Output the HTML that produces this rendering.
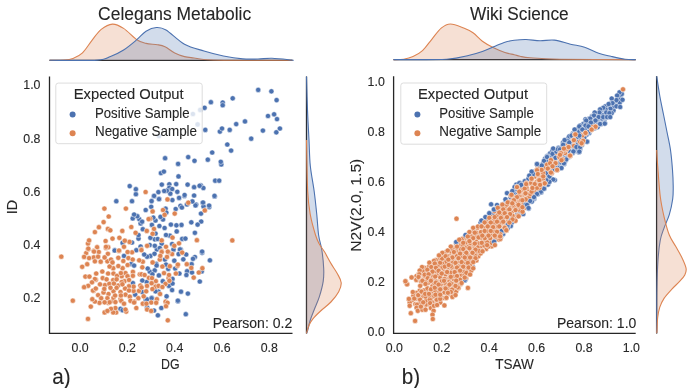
<!DOCTYPE html>
<html><head><meta charset="utf-8"><style>
html,body{margin:0;padding:0;background:#fff;}
svg{display:block;font-family:"Liberation Sans", sans-serif;will-change:transform;}
text{fill:#262626;stroke:#262626;stroke-width:0.1px;}
</style></head><body>
<svg width="694" height="388" viewBox="0 0 694 388">
<line x1="49.5" y1="60.3" x2="292.5" y2="60.3" stroke="#262626" stroke-width="1.3"/>
<line x1="306.5" y1="76.5" x2="306.5" y2="333.4" stroke="#262626" stroke-width="1.3"/>
<line x1="393.5" y1="59.6" x2="635.7" y2="59.6" stroke="#262626" stroke-width="1.3"/>
<line x1="656.6" y1="76.3" x2="656.6" y2="333.4" stroke="#262626" stroke-width="1.3"/>
<path d="M49.50,60.30 C51.87,60.27 59.78,60.42 63.70,60.10 C67.62,59.78 69.87,59.62 73.00,58.40 C76.13,57.18 79.37,55.77 82.50,52.80 C85.63,49.83 88.68,44.50 91.80,40.60 C94.92,36.70 97.77,32.15 101.20,29.40 C104.63,26.65 108.67,24.27 112.40,24.10 C116.13,23.93 119.53,25.80 123.60,28.40 C127.67,31.00 133.07,37.20 136.80,39.70 C140.53,42.20 142.57,42.57 146.00,43.40 C149.43,44.23 154.23,44.13 157.40,44.70 C160.57,45.27 162.12,45.42 165.00,46.80 C167.88,48.18 171.45,51.37 174.70,53.00 C177.95,54.63 181.28,55.77 184.50,56.60 C187.72,57.43 189.15,57.43 194.00,58.00 C198.85,58.57 197.18,59.62 213.60,60.00 C230.02,60.38 279.35,60.25 292.50,60.30 Z" fill="#DD8452" fill-opacity="0.25" stroke="none"/>
<path d="M49.50,60.30 C51.87,60.27 59.78,60.42 63.70,60.10 C67.62,59.78 69.87,59.62 73.00,58.40 C76.13,57.18 79.37,55.77 82.50,52.80 C85.63,49.83 88.68,44.50 91.80,40.60 C94.92,36.70 97.77,32.15 101.20,29.40 C104.63,26.65 108.67,24.27 112.40,24.10 C116.13,23.93 119.53,25.80 123.60,28.40 C127.67,31.00 133.07,37.20 136.80,39.70 C140.53,42.20 142.57,42.57 146.00,43.40 C149.43,44.23 154.23,44.13 157.40,44.70 C160.57,45.27 162.12,45.42 165.00,46.80 C167.88,48.18 171.45,51.37 174.70,53.00 C177.95,54.63 181.28,55.77 184.50,56.60 C187.72,57.43 189.15,57.43 194.00,58.00 C198.85,58.57 197.18,59.62 213.60,60.00 C230.02,60.38 279.35,60.25 292.50,60.30" fill="none" stroke="#DD8452" stroke-width="1.1"/>
<path d="M49.50,60.30 C57.48,60.27 87.23,60.73 97.40,60.10 C107.57,59.47 106.13,58.18 110.50,56.50 C114.87,54.82 119.22,52.80 123.60,50.00 C127.98,47.20 133.07,42.83 136.80,39.70 C140.53,36.57 142.73,33.23 146.00,31.20 C149.27,29.17 153.07,27.70 156.40,27.50 C159.73,27.30 161.32,27.20 166.00,30.00 C170.68,32.80 178.17,40.80 184.50,44.30 C190.83,47.80 197.52,49.05 204.00,51.00 C210.48,52.95 216.93,54.68 223.40,56.00 C229.87,57.32 237.03,58.40 242.80,58.90 C248.57,59.40 253.13,59.10 258.00,59.00 C262.87,58.90 266.42,58.13 272.00,58.30 C277.58,58.47 288.08,59.67 291.50,60.00 C294.92,60.33 292.33,60.25 292.50,60.30 Z" fill="#4C72B0" fill-opacity="0.25" stroke="none"/>
<path d="M49.50,60.30 C57.48,60.27 87.23,60.73 97.40,60.10 C107.57,59.47 106.13,58.18 110.50,56.50 C114.87,54.82 119.22,52.80 123.60,50.00 C127.98,47.20 133.07,42.83 136.80,39.70 C140.53,36.57 142.73,33.23 146.00,31.20 C149.27,29.17 153.07,27.70 156.40,27.50 C159.73,27.30 161.32,27.20 166.00,30.00 C170.68,32.80 178.17,40.80 184.50,44.30 C190.83,47.80 197.52,49.05 204.00,51.00 C210.48,52.95 216.93,54.68 223.40,56.00 C229.87,57.32 237.03,58.40 242.80,58.90 C248.57,59.40 253.13,59.10 258.00,59.00 C262.87,58.90 266.42,58.13 272.00,58.30 C277.58,58.47 288.08,59.67 291.50,60.00 C294.92,60.33 292.33,60.25 292.50,60.30" fill="none" stroke="#4C72B0" stroke-width="1.1"/>
<path d="M306.50,76.50 C306.67,82.08 307.08,99.42 307.50,110.00 C307.92,120.58 308.53,130.70 309.00,140.00 C309.47,149.30 309.43,157.22 310.30,165.80 C311.17,174.38 313.12,183.35 314.20,191.50 C315.28,199.65 316.07,207.45 316.80,214.70 C317.53,221.95 317.75,229.03 318.60,235.00 C319.45,240.97 321.05,244.92 321.90,250.50 C322.75,256.08 323.48,263.35 323.70,268.50 C323.92,273.65 323.93,276.67 323.20,281.40 C322.47,286.13 320.80,292.18 319.30,296.90 C317.80,301.62 315.70,305.85 314.20,309.70 C312.70,313.55 311.38,316.55 310.30,320.00 C309.22,323.45 308.33,328.18 307.70,330.40 C307.07,332.62 306.70,332.82 306.50,333.30 Z" fill="#4C72B0" fill-opacity="0.25" stroke="none"/>
<path d="M306.50,76.50 C306.67,82.08 307.08,99.42 307.50,110.00 C307.92,120.58 308.53,130.70 309.00,140.00 C309.47,149.30 309.43,157.22 310.30,165.80 C311.17,174.38 313.12,183.35 314.20,191.50 C315.28,199.65 316.07,207.45 316.80,214.70 C317.53,221.95 317.75,229.03 318.60,235.00 C319.45,240.97 321.05,244.92 321.90,250.50 C322.75,256.08 323.48,263.35 323.70,268.50 C323.92,273.65 323.93,276.67 323.20,281.40 C322.47,286.13 320.80,292.18 319.30,296.90 C317.80,301.62 315.70,305.85 314.20,309.70 C312.70,313.55 311.38,316.55 310.30,320.00 C309.22,323.45 308.33,328.18 307.70,330.40 C307.07,332.62 306.70,332.82 306.50,333.30" fill="none" stroke="#4C72B0" stroke-width="1.1"/>
<path d="M306.50,140.00 C306.70,148.58 307.07,179.05 307.70,191.50 C308.33,203.95 309.00,207.45 310.30,214.70 C311.60,221.95 314.00,230.12 315.50,235.00 C317.00,239.88 317.80,241.20 319.30,244.00 C320.80,246.80 322.57,248.57 324.50,251.80 C326.43,255.03 328.75,259.75 330.90,263.40 C333.05,267.05 335.68,270.48 337.40,273.70 C339.12,276.92 340.98,279.70 341.20,282.70 C341.42,285.70 340.42,288.48 338.70,291.70 C336.98,294.92 333.92,298.78 330.90,302.00 C327.88,305.22 323.60,308.20 320.60,311.00 C317.60,313.80 314.83,316.43 312.90,318.80 C310.97,321.17 310.07,322.78 309.00,325.20 C307.93,327.62 306.92,331.95 306.50,333.30 Z" fill="#DD8452" fill-opacity="0.25" stroke="none"/>
<path d="M306.50,140.00 C306.70,148.58 307.07,179.05 307.70,191.50 C308.33,203.95 309.00,207.45 310.30,214.70 C311.60,221.95 314.00,230.12 315.50,235.00 C317.00,239.88 317.80,241.20 319.30,244.00 C320.80,246.80 322.57,248.57 324.50,251.80 C326.43,255.03 328.75,259.75 330.90,263.40 C333.05,267.05 335.68,270.48 337.40,273.70 C339.12,276.92 340.98,279.70 341.20,282.70 C341.42,285.70 340.42,288.48 338.70,291.70 C336.98,294.92 333.92,298.78 330.90,302.00 C327.88,305.22 323.60,308.20 320.60,311.00 C317.60,313.80 314.83,316.43 312.90,318.80 C310.97,321.17 310.07,322.78 309.00,325.20 C307.93,327.62 306.92,331.95 306.50,333.30" fill="none" stroke="#DD8452" stroke-width="1.1"/>
<path d="M393.50,59.60 C395.20,59.53 400.45,59.70 403.70,59.20 C406.95,58.70 409.87,58.03 413.00,56.60 C416.13,55.17 419.37,53.48 422.50,50.60 C425.63,47.72 428.68,43.05 431.80,39.30 C434.92,35.55 438.08,30.65 441.20,28.10 C444.32,25.55 446.75,24.00 450.50,24.00 C454.25,24.00 459.95,26.63 463.70,28.10 C467.45,29.57 469.88,30.62 473.00,32.80 C476.12,34.98 478.97,38.70 482.40,41.20 C485.83,43.70 489.85,45.92 493.60,47.80 C497.35,49.68 501.47,51.35 504.90,52.50 C508.33,53.65 511.68,54.08 514.20,54.70 C516.72,55.33 517.37,55.75 520.00,56.25 C522.63,56.75 523.33,57.21 530.00,57.70 C536.67,58.19 542.38,58.88 560.00,59.20 C577.62,59.52 623.08,59.53 635.70,59.60 Z" fill="#DD8452" fill-opacity="0.25" stroke="none"/>
<path d="M393.50,59.60 C395.20,59.53 400.45,59.70 403.70,59.20 C406.95,58.70 409.87,58.03 413.00,56.60 C416.13,55.17 419.37,53.48 422.50,50.60 C425.63,47.72 428.68,43.05 431.80,39.30 C434.92,35.55 438.08,30.65 441.20,28.10 C444.32,25.55 446.75,24.00 450.50,24.00 C454.25,24.00 459.95,26.63 463.70,28.10 C467.45,29.57 469.88,30.62 473.00,32.80 C476.12,34.98 478.97,38.70 482.40,41.20 C485.83,43.70 489.85,45.92 493.60,47.80 C497.35,49.68 501.47,51.35 504.90,52.50 C508.33,53.65 511.68,54.08 514.20,54.70 C516.72,55.33 517.37,55.75 520.00,56.25 C522.63,56.75 523.33,57.21 530.00,57.70 C536.67,58.19 542.38,58.88 560.00,59.20 C577.62,59.52 623.08,59.53 635.70,59.60" fill="none" stroke="#DD8452" stroke-width="1.1"/>
<path d="M393.50,59.60 C402.38,59.53 434.17,59.92 446.80,59.20 C459.43,58.48 463.37,56.58 469.30,55.30 C475.23,54.02 478.35,52.92 482.40,51.50 C486.45,50.08 489.85,48.35 493.60,46.80 C497.35,45.25 501.47,43.28 504.90,42.20 C508.33,41.12 510.68,40.75 514.20,40.30 C517.72,39.85 521.70,39.43 526.00,39.50 C530.30,39.57 535.27,40.60 540.00,40.70 C544.73,40.80 549.32,39.52 554.40,40.10 C559.48,40.68 565.47,43.02 570.50,44.20 C575.53,45.38 579.90,45.70 584.60,47.20 C589.30,48.70 594.33,51.68 598.70,53.20 C603.07,54.72 606.42,55.30 610.80,56.30 C615.18,57.30 620.85,58.65 625.00,59.20 C629.15,59.75 633.92,59.53 635.70,59.60 Z" fill="#4C72B0" fill-opacity="0.25" stroke="none"/>
<path d="M393.50,59.60 C402.38,59.53 434.17,59.92 446.80,59.20 C459.43,58.48 463.37,56.58 469.30,55.30 C475.23,54.02 478.35,52.92 482.40,51.50 C486.45,50.08 489.85,48.35 493.60,46.80 C497.35,45.25 501.47,43.28 504.90,42.20 C508.33,41.12 510.68,40.75 514.20,40.30 C517.72,39.85 521.70,39.43 526.00,39.50 C530.30,39.57 535.27,40.60 540.00,40.70 C544.73,40.80 549.32,39.52 554.40,40.10 C559.48,40.68 565.47,43.02 570.50,44.20 C575.53,45.38 579.90,45.70 584.60,47.20 C589.30,48.70 594.33,51.68 598.70,53.20 C603.07,54.72 606.42,55.30 610.80,56.30 C615.18,57.30 620.85,58.65 625.00,59.20 C629.15,59.75 633.92,59.53 635.70,59.60" fill="none" stroke="#4C72B0" stroke-width="1.1"/>
<path d="M656.70,76.30 C657.22,79.58 658.68,89.72 659.80,96.00 C660.92,102.28 662.20,108.00 663.40,114.00 C664.60,120.00 665.82,126.00 667.00,132.00 C668.18,138.00 669.58,143.67 670.50,150.00 C671.42,156.33 672.05,164.00 672.50,170.00 C672.95,176.00 673.17,181.17 673.20,186.00 C673.23,190.83 673.35,194.22 672.70,199.00 C672.05,203.78 670.72,209.93 669.30,214.70 C667.88,219.47 665.70,223.38 664.20,227.60 C662.70,231.82 661.33,234.60 660.30,240.00 C659.27,245.40 658.57,251.67 658.00,260.00 C657.43,268.33 657.12,277.78 656.90,290.00 C656.68,302.22 656.73,326.08 656.70,333.30 Z" fill="#4C72B0" fill-opacity="0.25" stroke="none"/>
<path d="M656.70,76.30 C657.22,79.58 658.68,89.72 659.80,96.00 C660.92,102.28 662.20,108.00 663.40,114.00 C664.60,120.00 665.82,126.00 667.00,132.00 C668.18,138.00 669.58,143.67 670.50,150.00 C671.42,156.33 672.05,164.00 672.50,170.00 C672.95,176.00 673.17,181.17 673.20,186.00 C673.23,190.83 673.35,194.22 672.70,199.00 C672.05,203.78 670.72,209.93 669.30,214.70 C667.88,219.47 665.70,223.38 664.20,227.60 C662.70,231.82 661.33,234.60 660.30,240.00 C659.27,245.40 658.57,251.67 658.00,260.00 C657.43,268.33 657.12,277.78 656.90,290.00 C656.68,302.22 656.73,326.08 656.70,333.30" fill="none" stroke="#4C72B0" stroke-width="1.1"/>
<path d="M656.70,150.00 C656.87,152.67 657.10,158.22 657.70,166.00 C658.30,173.78 659.22,188.15 660.30,196.70 C661.38,205.25 662.70,210.92 664.20,217.30 C665.70,223.68 667.37,230.12 669.30,235.00 C671.23,239.88 673.65,242.73 675.80,246.60 C677.95,250.47 680.48,254.55 682.20,258.20 C683.92,261.85 685.67,265.70 686.10,268.50 C686.53,271.30 685.88,272.85 684.80,275.00 C683.72,277.15 681.75,279.05 679.60,281.40 C677.45,283.75 674.47,286.32 671.90,289.10 C669.33,291.88 666.22,295.08 664.20,298.10 C662.18,301.12 660.88,303.97 659.80,307.20 C658.72,310.43 658.17,313.63 657.70,317.50 C657.23,321.37 657.17,327.77 657.00,330.40 C656.83,333.03 656.75,332.82 656.70,333.30 Z" fill="#DD8452" fill-opacity="0.25" stroke="none"/>
<path d="M656.70,150.00 C656.87,152.67 657.10,158.22 657.70,166.00 C658.30,173.78 659.22,188.15 660.30,196.70 C661.38,205.25 662.70,210.92 664.20,217.30 C665.70,223.68 667.37,230.12 669.30,235.00 C671.23,239.88 673.65,242.73 675.80,246.60 C677.95,250.47 680.48,254.55 682.20,258.20 C683.92,261.85 685.67,265.70 686.10,268.50 C686.53,271.30 685.88,272.85 684.80,275.00 C683.72,277.15 681.75,279.05 679.60,281.40 C677.45,283.75 674.47,286.32 671.90,289.10 C669.33,291.88 666.22,295.08 664.20,298.10 C662.18,301.12 660.88,303.97 659.80,307.20 C658.72,310.43 658.17,313.63 657.70,317.50 C657.23,321.37 657.17,327.77 657.00,330.40 C656.83,333.03 656.75,332.82 656.70,333.30" fill="none" stroke="#DD8452" stroke-width="1.1"/>
<circle cx="120.4" cy="308.8" r="2.60" fill="#4C72B0" stroke="#fff" stroke-width="0.50"/>
<circle cx="172.5" cy="278.9" r="2.60" fill="#4C72B0" stroke="#fff" stroke-width="0.50"/>
<circle cx="182.2" cy="238.9" r="2.60" fill="#4C72B0" stroke="#fff" stroke-width="0.50"/>
<circle cx="192.9" cy="114.0" r="2.60" fill="#4C72B0" stroke="#fff" stroke-width="0.50"/>
<circle cx="145.7" cy="210.0" r="2.60" fill="#4C72B0" stroke="#fff" stroke-width="0.50"/>
<circle cx="170.9" cy="224.6" r="2.60" fill="#4C72B0" stroke="#fff" stroke-width="0.50"/>
<circle cx="159.1" cy="198.9" r="2.60" fill="#4C72B0" stroke="#fff" stroke-width="0.50"/>
<circle cx="185.4" cy="238.6" r="2.60" fill="#4C72B0" stroke="#fff" stroke-width="0.50"/>
<circle cx="202.1" cy="252.8" r="2.60" fill="#4C72B0" stroke="#fff" stroke-width="0.50"/>
<circle cx="197.6" cy="124.4" r="2.60" fill="#4C72B0" stroke="#fff" stroke-width="0.50"/>
<circle cx="175.7" cy="209.0" r="2.60" fill="#4C72B0" stroke="#fff" stroke-width="0.50"/>
<circle cx="219.9" cy="131.6" r="2.60" fill="#4C72B0" stroke="#fff" stroke-width="0.50"/>
<circle cx="185.8" cy="314.2" r="2.60" fill="#4C72B0" stroke="#fff" stroke-width="0.50"/>
<circle cx="187.1" cy="271.2" r="2.60" fill="#4C72B0" stroke="#fff" stroke-width="0.50"/>
<circle cx="200.2" cy="109.9" r="2.60" fill="#4C72B0" stroke="#fff" stroke-width="0.50"/>
<circle cx="165.1" cy="158.2" r="2.60" fill="#4C72B0" stroke="#fff" stroke-width="0.50"/>
<circle cx="154.0" cy="196.0" r="2.60" fill="#4C72B0" stroke="#fff" stroke-width="0.50"/>
<circle cx="132.7" cy="218.4" r="2.60" fill="#4C72B0" stroke="#fff" stroke-width="0.50"/>
<circle cx="202.1" cy="251.6" r="2.60" fill="#4C72B0" stroke="#fff" stroke-width="0.50"/>
<circle cx="156.2" cy="263.9" r="2.60" fill="#4C72B0" stroke="#fff" stroke-width="0.50"/>
<circle cx="146.6" cy="282.0" r="2.60" fill="#4C72B0" stroke="#fff" stroke-width="0.50"/>
<circle cx="222.7" cy="102.5" r="2.60" fill="#4C72B0" stroke="#fff" stroke-width="0.50"/>
<circle cx="151.9" cy="224.9" r="2.60" fill="#4C72B0" stroke="#fff" stroke-width="0.50"/>
<circle cx="158.4" cy="192.1" r="2.60" fill="#4C72B0" stroke="#fff" stroke-width="0.50"/>
<circle cx="202.9" cy="202.7" r="2.60" fill="#4C72B0" stroke="#fff" stroke-width="0.50"/>
<circle cx="205.3" cy="129.9" r="2.60" fill="#4C72B0" stroke="#fff" stroke-width="0.50"/>
<circle cx="184.4" cy="196.0" r="2.60" fill="#4C72B0" stroke="#fff" stroke-width="0.50"/>
<circle cx="149.7" cy="245.0" r="2.60" fill="#4C72B0" stroke="#fff" stroke-width="0.50"/>
<circle cx="142.8" cy="229.2" r="2.60" fill="#4C72B0" stroke="#fff" stroke-width="0.50"/>
<circle cx="166.6" cy="296.3" r="2.60" fill="#4C72B0" stroke="#fff" stroke-width="0.50"/>
<circle cx="173.5" cy="249.7" r="2.60" fill="#4C72B0" stroke="#fff" stroke-width="0.50"/>
<circle cx="159.4" cy="226.0" r="2.60" fill="#4C72B0" stroke="#fff" stroke-width="0.50"/>
<circle cx="155.5" cy="220.5" r="2.60" fill="#4C72B0" stroke="#fff" stroke-width="0.50"/>
<circle cx="114.7" cy="250.2" r="2.60" fill="#4C72B0" stroke="#fff" stroke-width="0.50"/>
<circle cx="176.7" cy="231.4" r="2.60" fill="#4C72B0" stroke="#fff" stroke-width="0.50"/>
<circle cx="168.2" cy="268.9" r="2.60" fill="#4C72B0" stroke="#fff" stroke-width="0.50"/>
<circle cx="138.5" cy="238.6" r="2.60" fill="#4C72B0" stroke="#fff" stroke-width="0.50"/>
<circle cx="200.8" cy="185.4" r="2.60" fill="#4C72B0" stroke="#fff" stroke-width="0.50"/>
<circle cx="161.3" cy="308.0" r="2.60" fill="#4C72B0" stroke="#fff" stroke-width="0.50"/>
<circle cx="164.9" cy="259.5" r="2.60" fill="#4C72B0" stroke="#fff" stroke-width="0.50"/>
<circle cx="181.0" cy="291.7" r="2.60" fill="#4C72B0" stroke="#fff" stroke-width="0.50"/>
<circle cx="170.3" cy="193.7" r="2.60" fill="#4C72B0" stroke="#fff" stroke-width="0.50"/>
<circle cx="186.2" cy="254.5" r="2.60" fill="#4C72B0" stroke="#fff" stroke-width="0.50"/>
<circle cx="165.6" cy="208.7" r="2.60" fill="#4C72B0" stroke="#fff" stroke-width="0.50"/>
<circle cx="156.9" cy="249.4" r="2.60" fill="#4C72B0" stroke="#fff" stroke-width="0.50"/>
<circle cx="271.4" cy="91.3" r="2.60" fill="#4C72B0" stroke="#fff" stroke-width="0.50"/>
<circle cx="236.2" cy="124.1" r="2.60" fill="#4C72B0" stroke="#fff" stroke-width="0.50"/>
<circle cx="154.8" cy="239.3" r="2.60" fill="#4C72B0" stroke="#fff" stroke-width="0.50"/>
<circle cx="187.9" cy="293.6" r="2.60" fill="#4C72B0" stroke="#fff" stroke-width="0.50"/>
<circle cx="149.7" cy="271.6" r="2.60" fill="#4C72B0" stroke="#fff" stroke-width="0.50"/>
<circle cx="214.7" cy="196.4" r="2.60" fill="#4C72B0" stroke="#fff" stroke-width="0.50"/>
<circle cx="163.0" cy="219.5" r="2.60" fill="#4C72B0" stroke="#fff" stroke-width="0.50"/>
<circle cx="201.2" cy="221.5" r="2.60" fill="#4C72B0" stroke="#fff" stroke-width="0.50"/>
<circle cx="232.7" cy="98.3" r="2.60" fill="#4C72B0" stroke="#fff" stroke-width="0.50"/>
<circle cx="132.0" cy="201.2" r="2.60" fill="#4C72B0" stroke="#fff" stroke-width="0.50"/>
<circle cx="135.9" cy="194.2" r="2.60" fill="#4C72B0" stroke="#fff" stroke-width="0.50"/>
<circle cx="122.6" cy="242.9" r="2.60" fill="#4C72B0" stroke="#fff" stroke-width="0.50"/>
<circle cx="277.0" cy="119.1" r="2.60" fill="#4C72B0" stroke="#fff" stroke-width="0.50"/>
<circle cx="147.1" cy="307.3" r="2.60" fill="#4C72B0" stroke="#fff" stroke-width="0.50"/>
<circle cx="169.3" cy="184.3" r="2.60" fill="#4C72B0" stroke="#fff" stroke-width="0.50"/>
<circle cx="191.6" cy="264.2" r="2.60" fill="#4C72B0" stroke="#fff" stroke-width="0.50"/>
<circle cx="180.5" cy="205.8" r="2.60" fill="#4C72B0" stroke="#fff" stroke-width="0.50"/>
<circle cx="136.3" cy="250.2" r="2.60" fill="#4C72B0" stroke="#fff" stroke-width="0.50"/>
<circle cx="151.9" cy="297.9" r="2.60" fill="#4C72B0" stroke="#fff" stroke-width="0.50"/>
<circle cx="183.3" cy="259.3" r="2.60" fill="#4C72B0" stroke="#fff" stroke-width="0.50"/>
<circle cx="169.3" cy="187.8" r="2.60" fill="#4C72B0" stroke="#fff" stroke-width="0.50"/>
<circle cx="177.3" cy="191.8" r="2.60" fill="#4C72B0" stroke="#fff" stroke-width="0.50"/>
<circle cx="209.2" cy="207.1" r="2.60" fill="#4C72B0" stroke="#fff" stroke-width="0.50"/>
<circle cx="142.3" cy="280.5" r="2.60" fill="#4C72B0" stroke="#fff" stroke-width="0.50"/>
<circle cx="131.3" cy="263.9" r="2.60" fill="#4C72B0" stroke="#fff" stroke-width="0.50"/>
<circle cx="132.0" cy="242.5" r="2.60" fill="#4C72B0" stroke="#fff" stroke-width="0.50"/>
<circle cx="155.5" cy="233.5" r="2.60" fill="#4C72B0" stroke="#fff" stroke-width="0.50"/>
<circle cx="214.5" cy="195.9" r="2.60" fill="#4C72B0" stroke="#fff" stroke-width="0.50"/>
<circle cx="204.6" cy="107.8" r="2.60" fill="#4C72B0" stroke="#fff" stroke-width="0.50"/>
<circle cx="172.2" cy="189.0" r="2.60" fill="#4C72B0" stroke="#fff" stroke-width="0.50"/>
<circle cx="194.1" cy="195.5" r="2.60" fill="#4C72B0" stroke="#fff" stroke-width="0.50"/>
<circle cx="150.4" cy="255.9" r="2.60" fill="#4C72B0" stroke="#fff" stroke-width="0.50"/>
<circle cx="151.5" cy="201.1" r="2.60" fill="#4C72B0" stroke="#fff" stroke-width="0.50"/>
<circle cx="135.2" cy="294.7" r="2.60" fill="#4C72B0" stroke="#fff" stroke-width="0.50"/>
<circle cx="139.2" cy="219.1" r="2.60" fill="#4C72B0" stroke="#fff" stroke-width="0.50"/>
<circle cx="161.7" cy="243.6" r="2.60" fill="#4C72B0" stroke="#fff" stroke-width="0.50"/>
<circle cx="157.9" cy="315.3" r="2.60" fill="#4C72B0" stroke="#fff" stroke-width="0.50"/>
<circle cx="184.6" cy="195.0" r="2.60" fill="#4C72B0" stroke="#fff" stroke-width="0.50"/>
<circle cx="201.0" cy="213.6" r="2.60" fill="#4C72B0" stroke="#fff" stroke-width="0.50"/>
<circle cx="158.5" cy="291.7" r="2.60" fill="#4C72B0" stroke="#fff" stroke-width="0.50"/>
<circle cx="209.9" cy="260.3" r="2.60" fill="#4C72B0" stroke="#fff" stroke-width="0.50"/>
<circle cx="179.4" cy="273.5" r="2.60" fill="#4C72B0" stroke="#fff" stroke-width="0.50"/>
<circle cx="180.7" cy="249.4" r="2.60" fill="#4C72B0" stroke="#fff" stroke-width="0.50"/>
<circle cx="222.7" cy="105.2" r="2.60" fill="#4C72B0" stroke="#fff" stroke-width="0.50"/>
<circle cx="122.6" cy="310.2" r="2.60" fill="#4C72B0" stroke="#fff" stroke-width="0.50"/>
<circle cx="147.1" cy="256.7" r="2.60" fill="#4C72B0" stroke="#fff" stroke-width="0.50"/>
<circle cx="215.2" cy="180.7" r="2.60" fill="#4C72B0" stroke="#fff" stroke-width="0.50"/>
<circle cx="174.3" cy="260.7" r="2.60" fill="#4C72B0" stroke="#fff" stroke-width="0.50"/>
<circle cx="180.0" cy="249.4" r="2.60" fill="#4C72B0" stroke="#fff" stroke-width="0.50"/>
<circle cx="160.9" cy="173.1" r="2.60" fill="#4C72B0" stroke="#fff" stroke-width="0.50"/>
<circle cx="274.1" cy="114.3" r="2.60" fill="#4C72B0" stroke="#fff" stroke-width="0.50"/>
<circle cx="169.9" cy="235.7" r="2.60" fill="#4C72B0" stroke="#fff" stroke-width="0.50"/>
<circle cx="201.7" cy="271.4" r="2.60" fill="#4C72B0" stroke="#fff" stroke-width="0.50"/>
<circle cx="169.0" cy="285.9" r="2.60" fill="#4C72B0" stroke="#fff" stroke-width="0.50"/>
<circle cx="166.0" cy="235.0" r="2.60" fill="#4C72B0" stroke="#fff" stroke-width="0.50"/>
<circle cx="147.7" cy="268.5" r="2.60" fill="#4C72B0" stroke="#fff" stroke-width="0.50"/>
<circle cx="137.3" cy="216.2" r="2.60" fill="#4C72B0" stroke="#fff" stroke-width="0.50"/>
<circle cx="203.5" cy="206.4" r="2.60" fill="#4C72B0" stroke="#fff" stroke-width="0.50"/>
<circle cx="172.5" cy="283.5" r="2.60" fill="#4C72B0" stroke="#fff" stroke-width="0.50"/>
<circle cx="251.2" cy="138.7" r="2.60" fill="#4C72B0" stroke="#fff" stroke-width="0.50"/>
<circle cx="154.7" cy="270.4" r="2.60" fill="#4C72B0" stroke="#fff" stroke-width="0.50"/>
<circle cx="186.4" cy="275.0" r="2.60" fill="#4C72B0" stroke="#fff" stroke-width="0.50"/>
<circle cx="154.8" cy="245.8" r="2.60" fill="#4C72B0" stroke="#fff" stroke-width="0.50"/>
<circle cx="129.7" cy="186.1" r="2.60" fill="#4C72B0" stroke="#fff" stroke-width="0.50"/>
<circle cx="258.2" cy="89.9" r="2.60" fill="#4C72B0" stroke="#fff" stroke-width="0.50"/>
<circle cx="222.0" cy="128.5" r="2.60" fill="#4C72B0" stroke="#fff" stroke-width="0.50"/>
<circle cx="203.0" cy="202.5" r="2.60" fill="#4C72B0" stroke="#fff" stroke-width="0.50"/>
<circle cx="188.2" cy="157.1" r="2.60" fill="#4C72B0" stroke="#fff" stroke-width="0.50"/>
<circle cx="181.5" cy="224.9" r="2.60" fill="#4C72B0" stroke="#fff" stroke-width="0.50"/>
<circle cx="166.8" cy="190.7" r="2.60" fill="#4C72B0" stroke="#fff" stroke-width="0.50"/>
<circle cx="245.0" cy="121.4" r="2.60" fill="#4C72B0" stroke="#fff" stroke-width="0.50"/>
<circle cx="155.5" cy="291.3" r="2.60" fill="#4C72B0" stroke="#fff" stroke-width="0.50"/>
<circle cx="229.7" cy="129.9" r="2.60" fill="#4C72B0" stroke="#fff" stroke-width="0.50"/>
<circle cx="162.8" cy="281.2" r="2.60" fill="#4C72B0" stroke="#fff" stroke-width="0.50"/>
<circle cx="231.1" cy="150.6" r="2.60" fill="#4C72B0" stroke="#fff" stroke-width="0.50"/>
<circle cx="181.9" cy="207.5" r="2.60" fill="#4C72B0" stroke="#fff" stroke-width="0.50"/>
<circle cx="160.5" cy="216.9" r="2.60" fill="#4C72B0" stroke="#fff" stroke-width="0.50"/>
<circle cx="212.2" cy="152.5" r="2.60" fill="#4C72B0" stroke="#fff" stroke-width="0.50"/>
<circle cx="179.1" cy="197.9" r="2.60" fill="#4C72B0" stroke="#fff" stroke-width="0.50"/>
<circle cx="196.2" cy="204.5" r="2.60" fill="#4C72B0" stroke="#fff" stroke-width="0.50"/>
<circle cx="276.6" cy="100.1" r="2.60" fill="#4C72B0" stroke="#fff" stroke-width="0.50"/>
<circle cx="173.5" cy="249.4" r="2.60" fill="#4C72B0" stroke="#fff" stroke-width="0.50"/>
<circle cx="172.1" cy="244.0" r="2.60" fill="#4C72B0" stroke="#fff" stroke-width="0.50"/>
<circle cx="154.5" cy="253.8" r="2.60" fill="#4C72B0" stroke="#fff" stroke-width="0.50"/>
<circle cx="210.9" cy="102.2" r="2.60" fill="#4C72B0" stroke="#fff" stroke-width="0.50"/>
<circle cx="116.3" cy="201.2" r="2.60" fill="#4C72B0" stroke="#fff" stroke-width="0.50"/>
<circle cx="194.9" cy="232.8" r="2.60" fill="#4C72B0" stroke="#fff" stroke-width="0.50"/>
<circle cx="144.2" cy="254.5" r="2.60" fill="#4C72B0" stroke="#fff" stroke-width="0.50"/>
<circle cx="134.1" cy="265.6" r="2.60" fill="#4C72B0" stroke="#fff" stroke-width="0.50"/>
<circle cx="203.4" cy="188.0" r="2.60" fill="#4C72B0" stroke="#fff" stroke-width="0.50"/>
<circle cx="132.9" cy="283.1" r="2.60" fill="#4C72B0" stroke="#fff" stroke-width="0.50"/>
<circle cx="195.5" cy="205.4" r="2.60" fill="#4C72B0" stroke="#fff" stroke-width="0.50"/>
<circle cx="157.7" cy="239.0" r="2.60" fill="#4C72B0" stroke="#fff" stroke-width="0.50"/>
<circle cx="192.4" cy="201.4" r="2.60" fill="#4C72B0" stroke="#fff" stroke-width="0.50"/>
<circle cx="176.4" cy="225.3" r="2.60" fill="#4C72B0" stroke="#fff" stroke-width="0.50"/>
<circle cx="178.6" cy="254.1" r="2.60" fill="#4C72B0" stroke="#fff" stroke-width="0.50"/>
<circle cx="154.1" cy="195.9" r="2.60" fill="#4C72B0" stroke="#fff" stroke-width="0.50"/>
<circle cx="187.0" cy="204.4" r="2.60" fill="#4C72B0" stroke="#fff" stroke-width="0.50"/>
<circle cx="159.0" cy="136.1" r="2.60" fill="#4C72B0" stroke="#fff" stroke-width="0.50"/>
<circle cx="140.6" cy="246.5" r="2.60" fill="#4C72B0" stroke="#fff" stroke-width="0.50"/>
<circle cx="152.4" cy="274.3" r="2.60" fill="#4C72B0" stroke="#fff" stroke-width="0.50"/>
<circle cx="140.6" cy="223.4" r="2.60" fill="#4C72B0" stroke="#fff" stroke-width="0.50"/>
<circle cx="158.9" cy="275.4" r="2.60" fill="#4C72B0" stroke="#fff" stroke-width="0.50"/>
<circle cx="178.1" cy="163.9" r="2.60" fill="#4C72B0" stroke="#fff" stroke-width="0.50"/>
<circle cx="159.8" cy="248.0" r="2.60" fill="#4C72B0" stroke="#fff" stroke-width="0.50"/>
<circle cx="187.6" cy="184.6" r="2.60" fill="#4C72B0" stroke="#fff" stroke-width="0.50"/>
<circle cx="145.7" cy="300.0" r="2.60" fill="#4C72B0" stroke="#fff" stroke-width="0.50"/>
<circle cx="114.7" cy="250.5" r="2.60" fill="#4C72B0" stroke="#fff" stroke-width="0.50"/>
<circle cx="135.9" cy="189.2" r="2.60" fill="#4C72B0" stroke="#fff" stroke-width="0.50"/>
<circle cx="268.0" cy="116.0" r="2.60" fill="#4C72B0" stroke="#fff" stroke-width="0.50"/>
<circle cx="142.3" cy="292.0" r="2.60" fill="#4C72B0" stroke="#fff" stroke-width="0.50"/>
<circle cx="151.6" cy="201.1" r="2.60" fill="#4C72B0" stroke="#fff" stroke-width="0.50"/>
<circle cx="175.2" cy="268.5" r="2.60" fill="#4C72B0" stroke="#fff" stroke-width="0.50"/>
<circle cx="166.0" cy="264.6" r="2.60" fill="#4C72B0" stroke="#fff" stroke-width="0.50"/>
<circle cx="172.1" cy="290.1" r="2.60" fill="#4C72B0" stroke="#fff" stroke-width="0.50"/>
<circle cx="154.0" cy="310.5" r="2.60" fill="#4C72B0" stroke="#fff" stroke-width="0.50"/>
<circle cx="194.9" cy="257.0" r="2.60" fill="#4C72B0" stroke="#fff" stroke-width="0.50"/>
<circle cx="192.0" cy="272.5" r="2.60" fill="#4C72B0" stroke="#fff" stroke-width="0.50"/>
<circle cx="150.4" cy="237.8" r="2.60" fill="#4C72B0" stroke="#fff" stroke-width="0.50"/>
<circle cx="134.1" cy="214.5" r="2.60" fill="#4C72B0" stroke="#fff" stroke-width="0.50"/>
<circle cx="138.5" cy="235.0" r="2.60" fill="#4C72B0" stroke="#fff" stroke-width="0.50"/>
<circle cx="199.8" cy="281.5" r="2.60" fill="#4C72B0" stroke="#fff" stroke-width="0.50"/>
<circle cx="193.0" cy="258.8" r="2.60" fill="#4C72B0" stroke="#fff" stroke-width="0.50"/>
<circle cx="153.3" cy="217.6" r="2.60" fill="#4C72B0" stroke="#fff" stroke-width="0.50"/>
<circle cx="177.9" cy="301.3" r="2.60" fill="#4C72B0" stroke="#fff" stroke-width="0.50"/>
<circle cx="221.3" cy="164.4" r="2.60" fill="#4C72B0" stroke="#fff" stroke-width="0.50"/>
<circle cx="177.9" cy="300.7" r="2.60" fill="#4C72B0" stroke="#fff" stroke-width="0.50"/>
<circle cx="199.6" cy="185.8" r="2.60" fill="#4C72B0" stroke="#fff" stroke-width="0.50"/>
<circle cx="166.3" cy="212.6" r="2.60" fill="#4C72B0" stroke="#fff" stroke-width="0.50"/>
<circle cx="156.6" cy="265.4" r="2.60" fill="#4C72B0" stroke="#fff" stroke-width="0.50"/>
<circle cx="164.2" cy="191.0" r="2.60" fill="#4C72B0" stroke="#fff" stroke-width="0.50"/>
<circle cx="151.2" cy="206.8" r="2.60" fill="#4C72B0" stroke="#fff" stroke-width="0.50"/>
<circle cx="142.1" cy="221.7" r="2.60" fill="#4C72B0" stroke="#fff" stroke-width="0.50"/>
<circle cx="159.0" cy="199.1" r="2.60" fill="#4C72B0" stroke="#fff" stroke-width="0.50"/>
<circle cx="209.1" cy="205.6" r="2.60" fill="#4C72B0" stroke="#fff" stroke-width="0.50"/>
<circle cx="219.2" cy="180.7" r="2.60" fill="#4C72B0" stroke="#fff" stroke-width="0.50"/>
<circle cx="279.9" cy="128.5" r="2.60" fill="#4C72B0" stroke="#fff" stroke-width="0.50"/>
<circle cx="191.3" cy="222.3" r="2.60" fill="#4C72B0" stroke="#fff" stroke-width="0.50"/>
<circle cx="227.3" cy="144.5" r="2.60" fill="#4C72B0" stroke="#fff" stroke-width="0.50"/>
<circle cx="147.1" cy="299.4" r="2.60" fill="#4C72B0" stroke="#fff" stroke-width="0.50"/>
<circle cx="220.8" cy="161.8" r="2.60" fill="#4C72B0" stroke="#fff" stroke-width="0.50"/>
<circle cx="197.6" cy="224.6" r="2.60" fill="#4C72B0" stroke="#fff" stroke-width="0.50"/>
<circle cx="172.4" cy="200.1" r="2.60" fill="#4C72B0" stroke="#fff" stroke-width="0.50"/>
<circle cx="207.8" cy="159.7" r="2.60" fill="#4C72B0" stroke="#fff" stroke-width="0.50"/>
<circle cx="176.2" cy="184.1" r="2.60" fill="#4C72B0" stroke="#fff" stroke-width="0.50"/>
<circle cx="163.9" cy="171.6" r="2.60" fill="#4C72B0" stroke="#fff" stroke-width="0.50"/>
<circle cx="124.0" cy="255.9" r="2.60" fill="#4C72B0" stroke="#fff" stroke-width="0.50"/>
<circle cx="161.8" cy="184.6" r="2.60" fill="#4C72B0" stroke="#fff" stroke-width="0.50"/>
<circle cx="262.9" cy="130.6" r="2.60" fill="#4C72B0" stroke="#fff" stroke-width="0.50"/>
<circle cx="164.6" cy="228.0" r="2.60" fill="#4C72B0" stroke="#fff" stroke-width="0.50"/>
<circle cx="194.5" cy="160.8" r="2.60" fill="#4C72B0" stroke="#fff" stroke-width="0.50"/>
<circle cx="194.1" cy="187.2" r="2.60" fill="#4C72B0" stroke="#fff" stroke-width="0.50"/>
<circle cx="151.6" cy="298.2" r="2.60" fill="#4C72B0" stroke="#fff" stroke-width="0.50"/>
<circle cx="178.5" cy="176.4" r="2.60" fill="#4C72B0" stroke="#fff" stroke-width="0.50"/>
<circle cx="276.3" cy="132.3" r="2.60" fill="#4C72B0" stroke="#fff" stroke-width="0.50"/>
<circle cx="119.0" cy="250.9" r="2.60" fill="#DD8452" stroke="#fff" stroke-width="0.50"/>
<circle cx="159.8" cy="259.5" r="2.60" fill="#DD8452" stroke="#fff" stroke-width="0.50"/>
<circle cx="163.0" cy="210.0" r="2.60" fill="#DD8452" stroke="#fff" stroke-width="0.50"/>
<circle cx="128.4" cy="258.1" r="2.60" fill="#DD8452" stroke="#fff" stroke-width="0.50"/>
<circle cx="106.0" cy="248.0" r="2.60" fill="#DD8452" stroke="#fff" stroke-width="0.50"/>
<circle cx="154.0" cy="228.9" r="2.60" fill="#DD8452" stroke="#fff" stroke-width="0.50"/>
<circle cx="129.5" cy="241.9" r="2.60" fill="#DD8452" stroke="#fff" stroke-width="0.50"/>
<circle cx="108.1" cy="273.5" r="2.60" fill="#DD8452" stroke="#fff" stroke-width="0.50"/>
<circle cx="155.8" cy="281.2" r="2.60" fill="#DD8452" stroke="#fff" stroke-width="0.50"/>
<circle cx="132.0" cy="252.3" r="2.60" fill="#DD8452" stroke="#fff" stroke-width="0.50"/>
<circle cx="118.2" cy="285.5" r="2.60" fill="#DD8452" stroke="#fff" stroke-width="0.50"/>
<circle cx="133.6" cy="290.9" r="2.60" fill="#DD8452" stroke="#fff" stroke-width="0.50"/>
<circle cx="165.6" cy="301.7" r="2.60" fill="#DD8452" stroke="#fff" stroke-width="0.50"/>
<circle cx="139.0" cy="290.9" r="2.60" fill="#DD8452" stroke="#fff" stroke-width="0.50"/>
<circle cx="93.7" cy="257.4" r="2.60" fill="#DD8452" stroke="#fff" stroke-width="0.50"/>
<circle cx="95.8" cy="279.7" r="2.60" fill="#DD8452" stroke="#fff" stroke-width="0.50"/>
<circle cx="113.5" cy="273.5" r="2.60" fill="#DD8452" stroke="#fff" stroke-width="0.50"/>
<circle cx="122.6" cy="268.2" r="2.60" fill="#DD8452" stroke="#fff" stroke-width="0.50"/>
<circle cx="121.7" cy="276.2" r="2.60" fill="#DD8452" stroke="#fff" stroke-width="0.50"/>
<circle cx="167.5" cy="199.4" r="2.60" fill="#DD8452" stroke="#fff" stroke-width="0.50"/>
<circle cx="150.2" cy="218.8" r="2.60" fill="#DD8452" stroke="#fff" stroke-width="0.50"/>
<circle cx="141.4" cy="249.4" r="2.60" fill="#DD8452" stroke="#fff" stroke-width="0.50"/>
<circle cx="124.4" cy="281.2" r="2.60" fill="#DD8452" stroke="#fff" stroke-width="0.50"/>
<circle cx="179.0" cy="243.3" r="2.60" fill="#DD8452" stroke="#fff" stroke-width="0.50"/>
<circle cx="105.0" cy="285.1" r="2.60" fill="#DD8452" stroke="#fff" stroke-width="0.50"/>
<circle cx="112.5" cy="238.6" r="2.60" fill="#DD8452" stroke="#fff" stroke-width="0.50"/>
<circle cx="85.4" cy="276.6" r="2.60" fill="#DD8452" stroke="#fff" stroke-width="0.50"/>
<circle cx="98.8" cy="252.0" r="2.60" fill="#DD8452" stroke="#fff" stroke-width="0.50"/>
<circle cx="148.9" cy="277.8" r="2.60" fill="#DD8452" stroke="#fff" stroke-width="0.50"/>
<circle cx="131.3" cy="227.0" r="2.60" fill="#DD8452" stroke="#fff" stroke-width="0.50"/>
<circle cx="97.1" cy="247.2" r="2.60" fill="#DD8452" stroke="#fff" stroke-width="0.50"/>
<circle cx="167.8" cy="320.3" r="2.60" fill="#DD8452" stroke="#fff" stroke-width="0.50"/>
<circle cx="177.5" cy="265.8" r="2.60" fill="#DD8452" stroke="#fff" stroke-width="0.50"/>
<circle cx="146.2" cy="291.3" r="2.60" fill="#DD8452" stroke="#fff" stroke-width="0.50"/>
<circle cx="89.4" cy="276.6" r="2.60" fill="#DD8452" stroke="#fff" stroke-width="0.50"/>
<circle cx="109.3" cy="283.9" r="2.60" fill="#DD8452" stroke="#fff" stroke-width="0.50"/>
<circle cx="107.9" cy="228.9" r="2.60" fill="#DD8452" stroke="#fff" stroke-width="0.50"/>
<circle cx="113.2" cy="280.0" r="2.60" fill="#DD8452" stroke="#fff" stroke-width="0.50"/>
<circle cx="191.3" cy="267.9" r="2.60" fill="#DD8452" stroke="#fff" stroke-width="0.50"/>
<circle cx="116.1" cy="312.4" r="2.60" fill="#DD8452" stroke="#fff" stroke-width="0.50"/>
<circle cx="86.2" cy="253.0" r="2.60" fill="#DD8452" stroke="#fff" stroke-width="0.50"/>
<circle cx="188.3" cy="202.7" r="2.60" fill="#DD8452" stroke="#fff" stroke-width="0.50"/>
<circle cx="172.1" cy="254.1" r="2.60" fill="#DD8452" stroke="#fff" stroke-width="0.50"/>
<circle cx="164.0" cy="273.1" r="2.60" fill="#DD8452" stroke="#fff" stroke-width="0.50"/>
<circle cx="177.9" cy="264.6" r="2.60" fill="#DD8452" stroke="#fff" stroke-width="0.50"/>
<circle cx="146.8" cy="230.9" r="2.60" fill="#DD8452" stroke="#fff" stroke-width="0.50"/>
<circle cx="99.5" cy="302.8" r="2.60" fill="#DD8452" stroke="#fff" stroke-width="0.50"/>
<circle cx="125.5" cy="273.1" r="2.60" fill="#DD8452" stroke="#fff" stroke-width="0.50"/>
<circle cx="165.5" cy="283.9" r="2.60" fill="#DD8452" stroke="#fff" stroke-width="0.50"/>
<circle cx="94.9" cy="279.0" r="2.60" fill="#DD8452" stroke="#fff" stroke-width="0.50"/>
<circle cx="107.4" cy="261.3" r="2.60" fill="#DD8452" stroke="#fff" stroke-width="0.50"/>
<circle cx="132.9" cy="271.9" r="2.60" fill="#DD8452" stroke="#fff" stroke-width="0.50"/>
<circle cx="161.7" cy="251.1" r="2.60" fill="#DD8452" stroke="#fff" stroke-width="0.50"/>
<circle cx="155.5" cy="286.6" r="2.60" fill="#DD8452" stroke="#fff" stroke-width="0.50"/>
<circle cx="94.9" cy="261.3" r="2.60" fill="#DD8452" stroke="#fff" stroke-width="0.50"/>
<circle cx="164.6" cy="214.8" r="2.60" fill="#DD8452" stroke="#fff" stroke-width="0.50"/>
<circle cx="133.6" cy="286.6" r="2.60" fill="#DD8452" stroke="#fff" stroke-width="0.50"/>
<circle cx="105.6" cy="241.0" r="2.60" fill="#DD8452" stroke="#fff" stroke-width="0.50"/>
<circle cx="113.2" cy="268.2" r="2.60" fill="#DD8452" stroke="#fff" stroke-width="0.50"/>
<circle cx="135.6" cy="232.8" r="2.60" fill="#DD8452" stroke="#fff" stroke-width="0.50"/>
<circle cx="100.7" cy="261.7" r="2.60" fill="#DD8452" stroke="#fff" stroke-width="0.50"/>
<circle cx="196.9" cy="240.2" r="2.60" fill="#DD8452" stroke="#fff" stroke-width="0.50"/>
<circle cx="186.8" cy="264.2" r="2.60" fill="#DD8452" stroke="#fff" stroke-width="0.50"/>
<circle cx="119.0" cy="250.5" r="2.60" fill="#DD8452" stroke="#fff" stroke-width="0.50"/>
<circle cx="168.6" cy="278.1" r="2.60" fill="#DD8452" stroke="#fff" stroke-width="0.50"/>
<circle cx="158.5" cy="285.9" r="2.60" fill="#DD8452" stroke="#fff" stroke-width="0.50"/>
<circle cx="160.1" cy="294.0" r="2.60" fill="#DD8452" stroke="#fff" stroke-width="0.50"/>
<circle cx="138.3" cy="298.2" r="2.60" fill="#DD8452" stroke="#fff" stroke-width="0.50"/>
<circle cx="108.5" cy="294.0" r="2.60" fill="#DD8452" stroke="#fff" stroke-width="0.50"/>
<circle cx="103.6" cy="222.1" r="2.60" fill="#DD8452" stroke="#fff" stroke-width="0.50"/>
<circle cx="169.0" cy="275.0" r="2.60" fill="#DD8452" stroke="#fff" stroke-width="0.50"/>
<circle cx="104.4" cy="208.6" r="2.60" fill="#DD8452" stroke="#fff" stroke-width="0.50"/>
<circle cx="162.4" cy="287.0" r="2.60" fill="#DD8452" stroke="#fff" stroke-width="0.50"/>
<circle cx="125.5" cy="294.7" r="2.60" fill="#DD8452" stroke="#fff" stroke-width="0.50"/>
<circle cx="129.8" cy="296.7" r="2.60" fill="#DD8452" stroke="#fff" stroke-width="0.50"/>
<circle cx="193.7" cy="277.6" r="2.60" fill="#DD8452" stroke="#fff" stroke-width="0.50"/>
<circle cx="174.7" cy="213.6" r="2.60" fill="#DD8452" stroke="#fff" stroke-width="0.50"/>
<circle cx="112.5" cy="300.8" r="2.60" fill="#DD8452" stroke="#fff" stroke-width="0.50"/>
<circle cx="119.4" cy="237.8" r="2.60" fill="#DD8452" stroke="#fff" stroke-width="0.50"/>
<circle cx="113.5" cy="291.3" r="2.60" fill="#DD8452" stroke="#fff" stroke-width="0.50"/>
<circle cx="121.2" cy="300.7" r="2.60" fill="#DD8452" stroke="#fff" stroke-width="0.50"/>
<circle cx="167.5" cy="302.8" r="2.60" fill="#DD8452" stroke="#fff" stroke-width="0.50"/>
<circle cx="107.9" cy="253.8" r="2.60" fill="#DD8452" stroke="#fff" stroke-width="0.50"/>
<circle cx="116.6" cy="287.8" r="2.60" fill="#DD8452" stroke="#fff" stroke-width="0.50"/>
<circle cx="151.2" cy="302.5" r="2.60" fill="#DD8452" stroke="#fff" stroke-width="0.50"/>
<circle cx="124.8" cy="240.7" r="2.60" fill="#DD8452" stroke="#fff" stroke-width="0.50"/>
<circle cx="127.6" cy="252.0" r="2.60" fill="#DD8452" stroke="#fff" stroke-width="0.50"/>
<circle cx="127.5" cy="276.2" r="2.60" fill="#DD8452" stroke="#fff" stroke-width="0.50"/>
<circle cx="72.8" cy="300.7" r="2.60" fill="#DD8452" stroke="#fff" stroke-width="0.50"/>
<circle cx="93.7" cy="290.7" r="2.60" fill="#DD8452" stroke="#fff" stroke-width="0.50"/>
<circle cx="87.2" cy="264.2" r="2.60" fill="#DD8452" stroke="#fff" stroke-width="0.50"/>
<circle cx="140.4" cy="285.5" r="2.60" fill="#DD8452" stroke="#fff" stroke-width="0.50"/>
<circle cx="93.7" cy="250.8" r="2.60" fill="#DD8452" stroke="#fff" stroke-width="0.50"/>
<circle cx="107.4" cy="298.2" r="2.60" fill="#DD8452" stroke="#fff" stroke-width="0.50"/>
<circle cx="98.1" cy="295.1" r="2.60" fill="#DD8452" stroke="#fff" stroke-width="0.50"/>
<circle cx="113.2" cy="312.4" r="2.60" fill="#DD8452" stroke="#fff" stroke-width="0.50"/>
<circle cx="147.1" cy="309.5" r="2.60" fill="#DD8452" stroke="#fff" stroke-width="0.50"/>
<circle cx="102.7" cy="278.1" r="2.60" fill="#DD8452" stroke="#fff" stroke-width="0.50"/>
<circle cx="166.0" cy="246.8" r="2.60" fill="#DD8452" stroke="#fff" stroke-width="0.50"/>
<circle cx="142.8" cy="261.7" r="2.60" fill="#DD8452" stroke="#fff" stroke-width="0.50"/>
<circle cx="152.0" cy="278.1" r="2.60" fill="#DD8452" stroke="#fff" stroke-width="0.50"/>
<circle cx="147.1" cy="245.8" r="2.60" fill="#DD8452" stroke="#fff" stroke-width="0.50"/>
<circle cx="88.0" cy="243.6" r="2.60" fill="#DD8452" stroke="#fff" stroke-width="0.50"/>
<circle cx="125.9" cy="208.6" r="2.60" fill="#DD8452" stroke="#fff" stroke-width="0.50"/>
<circle cx="102.3" cy="271.5" r="2.60" fill="#DD8452" stroke="#fff" stroke-width="0.50"/>
<circle cx="88.2" cy="285.8" r="2.60" fill="#DD8452" stroke="#fff" stroke-width="0.50"/>
<circle cx="108.2" cy="247.2" r="2.60" fill="#DD8452" stroke="#fff" stroke-width="0.50"/>
<circle cx="121.7" cy="282.0" r="2.60" fill="#DD8452" stroke="#fff" stroke-width="0.50"/>
<circle cx="129.0" cy="286.2" r="2.60" fill="#DD8452" stroke="#fff" stroke-width="0.50"/>
<circle cx="174.3" cy="245.8" r="2.60" fill="#DD8452" stroke="#fff" stroke-width="0.50"/>
<circle cx="120.5" cy="299.0" r="2.60" fill="#DD8452" stroke="#fff" stroke-width="0.50"/>
<circle cx="232.3" cy="240.4" r="2.60" fill="#DD8452" stroke="#fff" stroke-width="0.50"/>
<circle cx="168.5" cy="252.3" r="2.60" fill="#DD8452" stroke="#fff" stroke-width="0.50"/>
<circle cx="94.0" cy="251.6" r="2.60" fill="#DD8452" stroke="#fff" stroke-width="0.50"/>
<circle cx="120.5" cy="292.0" r="2.60" fill="#DD8452" stroke="#fff" stroke-width="0.50"/>
<circle cx="98.9" cy="227.2" r="2.60" fill="#DD8452" stroke="#fff" stroke-width="0.50"/>
<circle cx="167.0" cy="256.9" r="2.60" fill="#DD8452" stroke="#fff" stroke-width="0.50"/>
<circle cx="125.1" cy="288.5" r="2.60" fill="#DD8452" stroke="#fff" stroke-width="0.50"/>
<circle cx="151.2" cy="310.9" r="2.60" fill="#DD8452" stroke="#fff" stroke-width="0.50"/>
<circle cx="101.2" cy="298.2" r="2.60" fill="#DD8452" stroke="#fff" stroke-width="0.50"/>
<circle cx="108.2" cy="302.8" r="2.60" fill="#DD8452" stroke="#fff" stroke-width="0.50"/>
<circle cx="143.7" cy="296.3" r="2.60" fill="#DD8452" stroke="#fff" stroke-width="0.50"/>
<circle cx="93.0" cy="290.6" r="2.60" fill="#DD8452" stroke="#fff" stroke-width="0.50"/>
<circle cx="182.2" cy="252.6" r="2.60" fill="#DD8452" stroke="#fff" stroke-width="0.50"/>
<circle cx="118.3" cy="266.0" r="2.60" fill="#DD8452" stroke="#fff" stroke-width="0.50"/>
<circle cx="198.8" cy="272.5" r="2.60" fill="#DD8452" stroke="#fff" stroke-width="0.50"/>
<circle cx="202.4" cy="268.2" r="2.60" fill="#DD8452" stroke="#fff" stroke-width="0.50"/>
<circle cx="126.2" cy="311.6" r="2.60" fill="#DD8452" stroke="#fff" stroke-width="0.50"/>
<circle cx="113.5" cy="297.8" r="2.60" fill="#DD8452" stroke="#fff" stroke-width="0.50"/>
<circle cx="113.9" cy="283.5" r="2.60" fill="#DD8452" stroke="#fff" stroke-width="0.50"/>
<circle cx="120.9" cy="295.5" r="2.60" fill="#DD8452" stroke="#fff" stroke-width="0.50"/>
<circle cx="148.6" cy="219.1" r="2.60" fill="#DD8452" stroke="#fff" stroke-width="0.50"/>
<circle cx="151.6" cy="283.2" r="2.60" fill="#DD8452" stroke="#fff" stroke-width="0.50"/>
<circle cx="134.4" cy="301.5" r="2.60" fill="#DD8452" stroke="#fff" stroke-width="0.50"/>
<circle cx="130.5" cy="300.8" r="2.60" fill="#DD8452" stroke="#fff" stroke-width="0.50"/>
<circle cx="166.0" cy="306.2" r="2.60" fill="#DD8452" stroke="#fff" stroke-width="0.50"/>
<circle cx="89.1" cy="240.4" r="2.60" fill="#DD8452" stroke="#fff" stroke-width="0.50"/>
<circle cx="89.1" cy="258.1" r="2.60" fill="#DD8452" stroke="#fff" stroke-width="0.50"/>
<circle cx="106.6" cy="279.3" r="2.60" fill="#DD8452" stroke="#fff" stroke-width="0.50"/>
<circle cx="152.6" cy="211.4" r="2.60" fill="#DD8452" stroke="#fff" stroke-width="0.50"/>
<circle cx="152.6" cy="233.8" r="2.60" fill="#DD8452" stroke="#fff" stroke-width="0.50"/>
<circle cx="169.8" cy="266.2" r="2.60" fill="#DD8452" stroke="#fff" stroke-width="0.50"/>
<circle cx="156.9" cy="299.2" r="2.60" fill="#DD8452" stroke="#fff" stroke-width="0.50"/>
<circle cx="204.8" cy="210.4" r="2.60" fill="#DD8452" stroke="#fff" stroke-width="0.50"/>
<circle cx="139.8" cy="274.3" r="2.60" fill="#DD8452" stroke="#fff" stroke-width="0.50"/>
<circle cx="98.1" cy="256.7" r="2.60" fill="#DD8452" stroke="#fff" stroke-width="0.50"/>
<circle cx="61.3" cy="256.7" r="2.60" fill="#DD8452" stroke="#fff" stroke-width="0.50"/>
<circle cx="94.9" cy="301.5" r="2.60" fill="#DD8452" stroke="#fff" stroke-width="0.50"/>
<circle cx="167.8" cy="251.6" r="2.60" fill="#DD8452" stroke="#fff" stroke-width="0.50"/>
<circle cx="88.0" cy="318.9" r="2.60" fill="#DD8452" stroke="#fff" stroke-width="0.50"/>
<circle cx="118.3" cy="257.8" r="2.60" fill="#DD8452" stroke="#fff" stroke-width="0.50"/>
<circle cx="122.4" cy="284.3" r="2.60" fill="#DD8452" stroke="#fff" stroke-width="0.50"/>
<circle cx="96.2" cy="273.5" r="2.60" fill="#DD8452" stroke="#fff" stroke-width="0.50"/>
<circle cx="111.0" cy="259.5" r="2.60" fill="#DD8452" stroke="#fff" stroke-width="0.50"/>
<circle cx="141.5" cy="274.3" r="2.60" fill="#DD8452" stroke="#fff" stroke-width="0.50"/>
<circle cx="129.0" cy="280.0" r="2.60" fill="#DD8452" stroke="#fff" stroke-width="0.50"/>
<circle cx="115.1" cy="295.5" r="2.60" fill="#DD8452" stroke="#fff" stroke-width="0.50"/>
<circle cx="141.4" cy="250.1" r="2.60" fill="#DD8452" stroke="#fff" stroke-width="0.50"/>
<circle cx="115.4" cy="302.1" r="2.60" fill="#DD8452" stroke="#fff" stroke-width="0.50"/>
<circle cx="104.6" cy="257.4" r="2.60" fill="#DD8452" stroke="#fff" stroke-width="0.50"/>
<circle cx="94.9" cy="232.1" r="2.60" fill="#DD8452" stroke="#fff" stroke-width="0.50"/>
<circle cx="92.0" cy="282.3" r="2.60" fill="#DD8452" stroke="#fff" stroke-width="0.50"/>
<circle cx="161.7" cy="252.0" r="2.60" fill="#DD8452" stroke="#fff" stroke-width="0.50"/>
<circle cx="147.0" cy="285.9" r="2.60" fill="#DD8452" stroke="#fff" stroke-width="0.50"/>
<circle cx="115.4" cy="308.0" r="2.60" fill="#DD8452" stroke="#fff" stroke-width="0.50"/>
<circle cx="103.5" cy="292.4" r="2.60" fill="#DD8452" stroke="#fff" stroke-width="0.50"/>
<circle cx="125.5" cy="309.5" r="2.60" fill="#DD8452" stroke="#fff" stroke-width="0.50"/>
<circle cx="124.0" cy="246.8" r="2.60" fill="#DD8452" stroke="#fff" stroke-width="0.50"/>
<circle cx="129.0" cy="290.5" r="2.60" fill="#DD8452" stroke="#fff" stroke-width="0.50"/>
<circle cx="142.8" cy="303.7" r="2.60" fill="#DD8452" stroke="#fff" stroke-width="0.50"/>
<circle cx="175.9" cy="273.5" r="2.60" fill="#DD8452" stroke="#fff" stroke-width="0.50"/>
<circle cx="123.3" cy="261.0" r="2.60" fill="#DD8452" stroke="#fff" stroke-width="0.50"/>
<circle cx="160.3" cy="255.9" r="2.60" fill="#DD8452" stroke="#fff" stroke-width="0.50"/>
<circle cx="100.0" cy="284.3" r="2.60" fill="#DD8452" stroke="#fff" stroke-width="0.50"/>
<circle cx="162.4" cy="266.5" r="2.60" fill="#DD8452" stroke="#fff" stroke-width="0.50"/>
<circle cx="110.3" cy="230.3" r="2.60" fill="#DD8452" stroke="#fff" stroke-width="0.50"/>
<circle cx="84.1" cy="287.2" r="2.60" fill="#DD8452" stroke="#fff" stroke-width="0.50"/>
<circle cx="106.0" cy="246.8" r="2.60" fill="#DD8452" stroke="#fff" stroke-width="0.50"/>
<circle cx="95.8" cy="288.5" r="2.60" fill="#DD8452" stroke="#fff" stroke-width="0.50"/>
<circle cx="146.4" cy="303.7" r="2.60" fill="#DD8452" stroke="#fff" stroke-width="0.50"/>
<circle cx="145.6" cy="192.0" r="2.60" fill="#DD8452" stroke="#fff" stroke-width="0.50"/>
<circle cx="142.3" cy="267.3" r="2.60" fill="#DD8452" stroke="#fff" stroke-width="0.50"/>
<circle cx="161.7" cy="240.4" r="2.60" fill="#DD8452" stroke="#fff" stroke-width="0.50"/>
<circle cx="82.2" cy="266.8" r="2.60" fill="#DD8452" stroke="#fff" stroke-width="0.50"/>
<circle cx="92.3" cy="299.2" r="2.60" fill="#DD8452" stroke="#fff" stroke-width="0.50"/>
<circle cx="144.6" cy="275.0" r="2.60" fill="#DD8452" stroke="#fff" stroke-width="0.50"/>
<circle cx="134.1" cy="302.5" r="2.60" fill="#DD8452" stroke="#fff" stroke-width="0.50"/>
<circle cx="139.2" cy="260.3" r="2.60" fill="#DD8452" stroke="#fff" stroke-width="0.50"/>
<circle cx="104.3" cy="288.9" r="2.60" fill="#DD8452" stroke="#fff" stroke-width="0.50"/>
<circle cx="169.4" cy="280.8" r="2.60" fill="#DD8452" stroke="#fff" stroke-width="0.50"/>
<circle cx="121.2" cy="300.8" r="2.60" fill="#DD8452" stroke="#fff" stroke-width="0.50"/>
<circle cx="88.2" cy="249.2" r="2.60" fill="#DD8452" stroke="#fff" stroke-width="0.50"/>
<circle cx="132.9" cy="275.8" r="2.60" fill="#DD8452" stroke="#fff" stroke-width="0.50"/>
<circle cx="111.0" cy="308.8" r="2.60" fill="#DD8452" stroke="#fff" stroke-width="0.50"/>
<circle cx="110.5" cy="287.8" r="2.60" fill="#DD8452" stroke="#fff" stroke-width="0.50"/>
<circle cx="109.6" cy="302.3" r="2.60" fill="#DD8452" stroke="#fff" stroke-width="0.50"/>
<circle cx="136.3" cy="308.0" r="2.60" fill="#DD8452" stroke="#fff" stroke-width="0.50"/>
<circle cx="156.2" cy="302.8" r="2.60" fill="#DD8452" stroke="#fff" stroke-width="0.50"/>
<circle cx="141.5" cy="287.4" r="2.60" fill="#DD8452" stroke="#fff" stroke-width="0.50"/>
<circle cx="122.3" cy="230.9" r="2.60" fill="#DD8452" stroke="#fff" stroke-width="0.50"/>
<circle cx="104.6" cy="302.3" r="2.60" fill="#DD8452" stroke="#fff" stroke-width="0.50"/>
<circle cx="109.6" cy="266.5" r="2.60" fill="#DD8452" stroke="#fff" stroke-width="0.50"/>
<circle cx="104.6" cy="312.4" r="2.60" fill="#DD8452" stroke="#fff" stroke-width="0.50"/>
<circle cx="152.4" cy="289.0" r="2.60" fill="#DD8452" stroke="#fff" stroke-width="0.50"/>
<circle cx="117.0" cy="275.8" r="2.60" fill="#DD8452" stroke="#fff" stroke-width="0.50"/>
<circle cx="120.9" cy="273.1" r="2.60" fill="#DD8452" stroke="#fff" stroke-width="0.50"/>
<circle cx="124.0" cy="303.7" r="2.60" fill="#DD8452" stroke="#fff" stroke-width="0.50"/>
<circle cx="132.7" cy="259.5" r="2.60" fill="#DD8452" stroke="#fff" stroke-width="0.50"/>
<circle cx="90.8" cy="306.6" r="2.60" fill="#DD8452" stroke="#fff" stroke-width="0.50"/>
<circle cx="172.5" cy="237.6" r="2.60" fill="#DD8452" stroke="#fff" stroke-width="0.50"/>
<circle cx="127.6" cy="265.0" r="2.60" fill="#DD8452" stroke="#fff" stroke-width="0.50"/>
<circle cx="152.6" cy="262.4" r="2.60" fill="#DD8452" stroke="#fff" stroke-width="0.50"/>
<circle cx="107.4" cy="310.9" r="2.60" fill="#DD8452" stroke="#fff" stroke-width="0.50"/>
<circle cx="84.1" cy="256.9" r="2.60" fill="#DD8452" stroke="#fff" stroke-width="0.50"/>
<circle cx="116.6" cy="279.3" r="2.60" fill="#DD8452" stroke="#fff" stroke-width="0.50"/>
<circle cx="112.5" cy="262.4" r="2.60" fill="#DD8452" stroke="#fff" stroke-width="0.50"/>
<circle cx="108.7" cy="216.5" r="2.60" fill="#DD8452" stroke="#fff" stroke-width="0.50"/>
<circle cx="88.3" cy="248.7" r="2.60" fill="#DD8452" stroke="#fff" stroke-width="0.50"/>
<circle cx="558.4" cy="147.9" r="2.60" fill="#4C72B0" stroke="#fff" stroke-width="0.50"/>
<circle cx="594.2" cy="121.6" r="2.60" fill="#4C72B0" stroke="#fff" stroke-width="0.50"/>
<circle cx="559.9" cy="162.5" r="2.60" fill="#4C72B0" stroke="#fff" stroke-width="0.50"/>
<circle cx="566.1" cy="141.1" r="2.60" fill="#4C72B0" stroke="#fff" stroke-width="0.50"/>
<circle cx="580.9" cy="138.9" r="2.60" fill="#4C72B0" stroke="#fff" stroke-width="0.50"/>
<circle cx="574.2" cy="149.9" r="2.60" fill="#4C72B0" stroke="#fff" stroke-width="0.50"/>
<circle cx="567.9" cy="155.7" r="2.60" fill="#4C72B0" stroke="#fff" stroke-width="0.50"/>
<circle cx="597.6" cy="127.1" r="2.60" fill="#4C72B0" stroke="#fff" stroke-width="0.50"/>
<circle cx="605.8" cy="114.2" r="2.60" fill="#4C72B0" stroke="#fff" stroke-width="0.50"/>
<circle cx="573.3" cy="136.9" r="2.60" fill="#4C72B0" stroke="#fff" stroke-width="0.50"/>
<circle cx="620.3" cy="96.1" r="2.60" fill="#4C72B0" stroke="#fff" stroke-width="0.50"/>
<circle cx="588.1" cy="126.7" r="2.60" fill="#4C72B0" stroke="#fff" stroke-width="0.50"/>
<circle cx="600.4" cy="110.1" r="2.60" fill="#4C72B0" stroke="#fff" stroke-width="0.50"/>
<circle cx="601.8" cy="123.7" r="2.60" fill="#4C72B0" stroke="#fff" stroke-width="0.50"/>
<circle cx="537.9" cy="194.1" r="2.60" fill="#4C72B0" stroke="#fff" stroke-width="0.50"/>
<circle cx="555.8" cy="151.6" r="2.60" fill="#4C72B0" stroke="#fff" stroke-width="0.50"/>
<circle cx="557.4" cy="166.4" r="2.60" fill="#4C72B0" stroke="#fff" stroke-width="0.50"/>
<circle cx="503.2" cy="234.0" r="2.60" fill="#4C72B0" stroke="#fff" stroke-width="0.50"/>
<circle cx="545.2" cy="158.5" r="2.60" fill="#4C72B0" stroke="#fff" stroke-width="0.50"/>
<circle cx="577.5" cy="129.0" r="2.60" fill="#4C72B0" stroke="#fff" stroke-width="0.50"/>
<circle cx="615.8" cy="101.3" r="2.60" fill="#4C72B0" stroke="#fff" stroke-width="0.50"/>
<circle cx="553.3" cy="156.7" r="2.60" fill="#4C72B0" stroke="#fff" stroke-width="0.50"/>
<circle cx="583.3" cy="123.9" r="2.60" fill="#4C72B0" stroke="#fff" stroke-width="0.50"/>
<circle cx="548.8" cy="170.7" r="2.60" fill="#4C72B0" stroke="#fff" stroke-width="0.50"/>
<circle cx="588.6" cy="123.0" r="2.60" fill="#4C72B0" stroke="#fff" stroke-width="0.50"/>
<circle cx="597.4" cy="114.1" r="2.60" fill="#4C72B0" stroke="#fff" stroke-width="0.50"/>
<circle cx="602.4" cy="115.0" r="2.60" fill="#4C72B0" stroke="#fff" stroke-width="0.50"/>
<circle cx="589.2" cy="133.0" r="2.60" fill="#4C72B0" stroke="#fff" stroke-width="0.50"/>
<circle cx="608.5" cy="106.2" r="2.60" fill="#4C72B0" stroke="#fff" stroke-width="0.50"/>
<circle cx="613.5" cy="110.4" r="2.60" fill="#4C72B0" stroke="#fff" stroke-width="0.50"/>
<circle cx="604.4" cy="120.4" r="2.60" fill="#4C72B0" stroke="#fff" stroke-width="0.50"/>
<circle cx="550.1" cy="153.3" r="2.60" fill="#4C72B0" stroke="#fff" stroke-width="0.50"/>
<circle cx="598.5" cy="118.2" r="2.60" fill="#4C72B0" stroke="#fff" stroke-width="0.50"/>
<circle cx="585.0" cy="129.0" r="2.60" fill="#4C72B0" stroke="#fff" stroke-width="0.50"/>
<circle cx="592.0" cy="116.1" r="2.60" fill="#4C72B0" stroke="#fff" stroke-width="0.50"/>
<circle cx="562.0" cy="155.2" r="2.60" fill="#4C72B0" stroke="#fff" stroke-width="0.50"/>
<circle cx="564.6" cy="158.3" r="2.60" fill="#4C72B0" stroke="#fff" stroke-width="0.50"/>
<circle cx="576.7" cy="141.6" r="2.60" fill="#4C72B0" stroke="#fff" stroke-width="0.50"/>
<circle cx="613.9" cy="106.3" r="2.60" fill="#4C72B0" stroke="#fff" stroke-width="0.50"/>
<circle cx="610.9" cy="103.3" r="2.60" fill="#4C72B0" stroke="#fff" stroke-width="0.50"/>
<circle cx="556.7" cy="163.2" r="2.60" fill="#4C72B0" stroke="#fff" stroke-width="0.50"/>
<circle cx="523.1" cy="186.4" r="2.60" fill="#4C72B0" stroke="#fff" stroke-width="0.50"/>
<circle cx="569.4" cy="150.9" r="2.60" fill="#4C72B0" stroke="#fff" stroke-width="0.50"/>
<circle cx="607.8" cy="111.6" r="2.60" fill="#4C72B0" stroke="#fff" stroke-width="0.50"/>
<circle cx="522.2" cy="207.1" r="2.60" fill="#4C72B0" stroke="#fff" stroke-width="0.50"/>
<circle cx="575.9" cy="131.9" r="2.60" fill="#4C72B0" stroke="#fff" stroke-width="0.50"/>
<circle cx="551.5" cy="172.8" r="2.60" fill="#4C72B0" stroke="#fff" stroke-width="0.50"/>
<circle cx="543.1" cy="163.3" r="2.60" fill="#4C72B0" stroke="#fff" stroke-width="0.50"/>
<circle cx="472.9" cy="267.1" r="2.60" fill="#4C72B0" stroke="#fff" stroke-width="0.50"/>
<circle cx="577.7" cy="136.3" r="2.60" fill="#4C72B0" stroke="#fff" stroke-width="0.50"/>
<circle cx="517.2" cy="214.7" r="2.60" fill="#4C72B0" stroke="#fff" stroke-width="0.50"/>
<circle cx="582.7" cy="131.5" r="2.60" fill="#4C72B0" stroke="#fff" stroke-width="0.50"/>
<circle cx="498.0" cy="210.8" r="2.60" fill="#4C72B0" stroke="#fff" stroke-width="0.50"/>
<circle cx="590.7" cy="129.4" r="2.60" fill="#4C72B0" stroke="#fff" stroke-width="0.50"/>
<circle cx="548.2" cy="176.4" r="2.60" fill="#4C72B0" stroke="#fff" stroke-width="0.50"/>
<circle cx="603.6" cy="109.4" r="2.60" fill="#4C72B0" stroke="#fff" stroke-width="0.50"/>
<circle cx="554.2" cy="169.4" r="2.60" fill="#4C72B0" stroke="#fff" stroke-width="0.50"/>
<circle cx="480.6" cy="222.8" r="2.60" fill="#4C72B0" stroke="#fff" stroke-width="0.50"/>
<circle cx="510.6" cy="197.4" r="2.60" fill="#4C72B0" stroke="#fff" stroke-width="0.50"/>
<circle cx="577.8" cy="144.7" r="2.60" fill="#4C72B0" stroke="#fff" stroke-width="0.50"/>
<circle cx="514.9" cy="193.0" r="2.60" fill="#4C72B0" stroke="#fff" stroke-width="0.50"/>
<circle cx="548.7" cy="156.9" r="2.60" fill="#4C72B0" stroke="#fff" stroke-width="0.50"/>
<circle cx="492.9" cy="214.0" r="2.60" fill="#4C72B0" stroke="#fff" stroke-width="0.50"/>
<circle cx="561.1" cy="159.3" r="2.60" fill="#4C72B0" stroke="#fff" stroke-width="0.50"/>
<circle cx="534.4" cy="173.2" r="2.60" fill="#4C72B0" stroke="#fff" stroke-width="0.50"/>
<circle cx="618.0" cy="105.6" r="2.60" fill="#4C72B0" stroke="#fff" stroke-width="0.50"/>
<circle cx="589.1" cy="118.6" r="2.60" fill="#4C72B0" stroke="#fff" stroke-width="0.50"/>
<circle cx="585.5" cy="140.8" r="2.60" fill="#4C72B0" stroke="#fff" stroke-width="0.50"/>
<circle cx="494.5" cy="244.1" r="2.60" fill="#4C72B0" stroke="#fff" stroke-width="0.50"/>
<circle cx="511.9" cy="222.4" r="2.60" fill="#4C72B0" stroke="#fff" stroke-width="0.50"/>
<circle cx="527.0" cy="184.6" r="2.60" fill="#4C72B0" stroke="#fff" stroke-width="0.50"/>
<circle cx="500.8" cy="236.9" r="2.60" fill="#4C72B0" stroke="#fff" stroke-width="0.50"/>
<circle cx="618.8" cy="99.6" r="2.60" fill="#4C72B0" stroke="#fff" stroke-width="0.50"/>
<circle cx="594.4" cy="128.3" r="2.60" fill="#4C72B0" stroke="#fff" stroke-width="0.50"/>
<circle cx="456.8" cy="259.5" r="2.60" fill="#4C72B0" stroke="#fff" stroke-width="0.50"/>
<circle cx="580.1" cy="149.1" r="2.60" fill="#4C72B0" stroke="#fff" stroke-width="0.50"/>
<circle cx="606.7" cy="117.4" r="2.60" fill="#4C72B0" stroke="#fff" stroke-width="0.50"/>
<circle cx="570.0" cy="142.5" r="2.60" fill="#4C72B0" stroke="#fff" stroke-width="0.50"/>
<circle cx="548.0" cy="160.7" r="2.60" fill="#4C72B0" stroke="#fff" stroke-width="0.50"/>
<circle cx="510.8" cy="226.0" r="2.60" fill="#4C72B0" stroke="#fff" stroke-width="0.50"/>
<circle cx="570.6" cy="146.1" r="2.60" fill="#4C72B0" stroke="#fff" stroke-width="0.50"/>
<circle cx="608.9" cy="115.0" r="2.60" fill="#4C72B0" stroke="#fff" stroke-width="0.50"/>
<circle cx="586.4" cy="134.7" r="2.60" fill="#4C72B0" stroke="#fff" stroke-width="0.50"/>
<circle cx="507.7" cy="228.4" r="2.60" fill="#4C72B0" stroke="#fff" stroke-width="0.50"/>
<circle cx="539.7" cy="187.6" r="2.60" fill="#4C72B0" stroke="#fff" stroke-width="0.50"/>
<circle cx="465.2" cy="279.5" r="2.60" fill="#4C72B0" stroke="#fff" stroke-width="0.50"/>
<circle cx="505.7" cy="200.6" r="2.60" fill="#4C72B0" stroke="#fff" stroke-width="0.50"/>
<circle cx="572.7" cy="152.9" r="2.60" fill="#4C72B0" stroke="#fff" stroke-width="0.50"/>
<circle cx="530.9" cy="178.8" r="2.60" fill="#4C72B0" stroke="#fff" stroke-width="0.50"/>
<circle cx="580.8" cy="127.7" r="2.60" fill="#4C72B0" stroke="#fff" stroke-width="0.50"/>
<circle cx="598.0" cy="122.3" r="2.60" fill="#4C72B0" stroke="#fff" stroke-width="0.50"/>
<circle cx="568.4" cy="138.0" r="2.60" fill="#4C72B0" stroke="#fff" stroke-width="0.50"/>
<circle cx="562.8" cy="146.1" r="2.60" fill="#4C72B0" stroke="#fff" stroke-width="0.50"/>
<circle cx="581.8" cy="145.0" r="2.60" fill="#4C72B0" stroke="#fff" stroke-width="0.50"/>
<circle cx="511.4" cy="193.9" r="2.60" fill="#4C72B0" stroke="#fff" stroke-width="0.50"/>
<circle cx="516.4" cy="189.6" r="2.60" fill="#4C72B0" stroke="#fff" stroke-width="0.50"/>
<circle cx="502.5" cy="204.3" r="2.60" fill="#4C72B0" stroke="#fff" stroke-width="0.50"/>
<circle cx="527.7" cy="181.4" r="2.60" fill="#4C72B0" stroke="#fff" stroke-width="0.50"/>
<circle cx="601.9" cy="118.4" r="2.60" fill="#4C72B0" stroke="#fff" stroke-width="0.50"/>
<circle cx="520.3" cy="213.1" r="2.60" fill="#4C72B0" stroke="#fff" stroke-width="0.50"/>
<circle cx="539.6" cy="191.3" r="2.60" fill="#4C72B0" stroke="#fff" stroke-width="0.50"/>
<circle cx="563.2" cy="161.7" r="2.60" fill="#4C72B0" stroke="#fff" stroke-width="0.50"/>
<circle cx="546.2" cy="180.3" r="2.60" fill="#4C72B0" stroke="#fff" stroke-width="0.50"/>
<circle cx="534.2" cy="198.7" r="2.60" fill="#4C72B0" stroke="#fff" stroke-width="0.50"/>
<circle cx="595.4" cy="124.7" r="2.60" fill="#4C72B0" stroke="#fff" stroke-width="0.50"/>
<circle cx="584.3" cy="137.8" r="2.60" fill="#4C72B0" stroke="#fff" stroke-width="0.50"/>
<circle cx="605.3" cy="106.4" r="2.60" fill="#4C72B0" stroke="#fff" stroke-width="0.50"/>
<circle cx="572.9" cy="133.3" r="2.60" fill="#4C72B0" stroke="#fff" stroke-width="0.50"/>
<circle cx="595.3" cy="116.8" r="2.60" fill="#4C72B0" stroke="#fff" stroke-width="0.50"/>
<circle cx="610.4" cy="108.8" r="2.60" fill="#4C72B0" stroke="#fff" stroke-width="0.50"/>
<circle cx="585.6" cy="121.6" r="2.60" fill="#4C72B0" stroke="#fff" stroke-width="0.50"/>
<circle cx="563.2" cy="142.8" r="2.60" fill="#4C72B0" stroke="#fff" stroke-width="0.50"/>
<circle cx="552.4" cy="150.9" r="2.60" fill="#4C72B0" stroke="#fff" stroke-width="0.50"/>
<circle cx="577.3" cy="150.8" r="2.60" fill="#4C72B0" stroke="#fff" stroke-width="0.50"/>
<circle cx="611.7" cy="113.1" r="2.60" fill="#4C72B0" stroke="#fff" stroke-width="0.50"/>
<circle cx="619.7" cy="102.7" r="2.60" fill="#4C72B0" stroke="#fff" stroke-width="0.50"/>
<circle cx="451.7" cy="289.5" r="2.60" fill="#DD8452" stroke="#fff" stroke-width="0.50"/>
<circle cx="472.6" cy="234.8" r="2.60" fill="#DD8452" stroke="#fff" stroke-width="0.50"/>
<circle cx="445.8" cy="274.9" r="2.60" fill="#DD8452" stroke="#fff" stroke-width="0.50"/>
<circle cx="426.0" cy="304.7" r="2.60" fill="#DD8452" stroke="#fff" stroke-width="0.50"/>
<circle cx="445.4" cy="284.0" r="2.60" fill="#DD8452" stroke="#fff" stroke-width="0.50"/>
<circle cx="420.4" cy="306.9" r="2.60" fill="#DD8452" stroke="#fff" stroke-width="0.50"/>
<circle cx="472.0" cy="251.0" r="2.60" fill="#DD8452" stroke="#fff" stroke-width="0.50"/>
<circle cx="427.6" cy="277.5" r="2.60" fill="#DD8452" stroke="#fff" stroke-width="0.50"/>
<circle cx="466.4" cy="266.8" r="2.60" fill="#DD8452" stroke="#fff" stroke-width="0.50"/>
<circle cx="428.7" cy="266.9" r="2.60" fill="#DD8452" stroke="#fff" stroke-width="0.50"/>
<circle cx="432.5" cy="275.3" r="2.60" fill="#DD8452" stroke="#fff" stroke-width="0.50"/>
<circle cx="419.7" cy="290.7" r="2.60" fill="#DD8452" stroke="#fff" stroke-width="0.50"/>
<circle cx="444.4" cy="292.5" r="2.60" fill="#DD8452" stroke="#fff" stroke-width="0.50"/>
<circle cx="430.5" cy="305.4" r="2.60" fill="#DD8452" stroke="#fff" stroke-width="0.50"/>
<circle cx="445.9" cy="252.2" r="2.60" fill="#DD8452" stroke="#fff" stroke-width="0.50"/>
<circle cx="439.2" cy="261.7" r="2.60" fill="#DD8452" stroke="#fff" stroke-width="0.50"/>
<circle cx="467.9" cy="236.4" r="2.60" fill="#DD8452" stroke="#fff" stroke-width="0.50"/>
<circle cx="416.2" cy="298.5" r="2.60" fill="#DD8452" stroke="#fff" stroke-width="0.50"/>
<circle cx="441.6" cy="288.5" r="2.60" fill="#DD8452" stroke="#fff" stroke-width="0.50"/>
<circle cx="442.4" cy="254.4" r="2.60" fill="#DD8452" stroke="#fff" stroke-width="0.50"/>
<circle cx="432.1" cy="293.4" r="2.60" fill="#DD8452" stroke="#fff" stroke-width="0.50"/>
<circle cx="454.8" cy="291.1" r="2.60" fill="#DD8452" stroke="#fff" stroke-width="0.50"/>
<circle cx="432.3" cy="286.3" r="2.60" fill="#DD8452" stroke="#fff" stroke-width="0.50"/>
<circle cx="453.7" cy="275.5" r="2.60" fill="#DD8452" stroke="#fff" stroke-width="0.50"/>
<circle cx="423.8" cy="283.4" r="2.60" fill="#DD8452" stroke="#fff" stroke-width="0.50"/>
<circle cx="439.7" cy="296.1" r="2.60" fill="#DD8452" stroke="#fff" stroke-width="0.50"/>
<circle cx="431.1" cy="281.0" r="2.60" fill="#DD8452" stroke="#fff" stroke-width="0.50"/>
<circle cx="431.3" cy="298.3" r="2.60" fill="#DD8452" stroke="#fff" stroke-width="0.50"/>
<circle cx="443.9" cy="271.1" r="2.60" fill="#DD8452" stroke="#fff" stroke-width="0.50"/>
<circle cx="463.5" cy="275.5" r="2.60" fill="#DD8452" stroke="#fff" stroke-width="0.50"/>
<circle cx="454.9" cy="261.6" r="2.60" fill="#DD8452" stroke="#fff" stroke-width="0.50"/>
<circle cx="438.1" cy="281.6" r="2.60" fill="#DD8452" stroke="#fff" stroke-width="0.50"/>
<circle cx="439.9" cy="258.1" r="2.60" fill="#DD8452" stroke="#fff" stroke-width="0.50"/>
<circle cx="422.8" cy="303.6" r="2.60" fill="#DD8452" stroke="#fff" stroke-width="0.50"/>
<circle cx="466.4" cy="261.5" r="2.60" fill="#DD8452" stroke="#fff" stroke-width="0.50"/>
<circle cx="449.7" cy="274.1" r="2.60" fill="#DD8452" stroke="#fff" stroke-width="0.50"/>
<circle cx="450.6" cy="255.5" r="2.60" fill="#DD8452" stroke="#fff" stroke-width="0.50"/>
<circle cx="433.2" cy="262.6" r="2.60" fill="#DD8452" stroke="#fff" stroke-width="0.50"/>
<circle cx="463.6" cy="246.4" r="2.60" fill="#DD8452" stroke="#fff" stroke-width="0.50"/>
<circle cx="450.6" cy="266.3" r="2.60" fill="#DD8452" stroke="#fff" stroke-width="0.50"/>
<circle cx="462.0" cy="251.2" r="2.60" fill="#DD8452" stroke="#fff" stroke-width="0.50"/>
<circle cx="427.3" cy="271.1" r="2.60" fill="#DD8452" stroke="#fff" stroke-width="0.50"/>
<circle cx="437.1" cy="275.1" r="2.60" fill="#DD8452" stroke="#fff" stroke-width="0.50"/>
<circle cx="458.1" cy="280.0" r="2.60" fill="#DD8452" stroke="#fff" stroke-width="0.50"/>
<circle cx="468.9" cy="242.1" r="2.60" fill="#DD8452" stroke="#fff" stroke-width="0.50"/>
<circle cx="427.2" cy="297.2" r="2.60" fill="#DD8452" stroke="#fff" stroke-width="0.50"/>
<circle cx="426.5" cy="292.9" r="2.60" fill="#DD8452" stroke="#fff" stroke-width="0.50"/>
<circle cx="440.9" cy="272.8" r="2.60" fill="#DD8452" stroke="#fff" stroke-width="0.50"/>
<circle cx="416.5" cy="276.0" r="2.60" fill="#DD8452" stroke="#fff" stroke-width="0.50"/>
<circle cx="422.3" cy="296.3" r="2.60" fill="#DD8452" stroke="#fff" stroke-width="0.50"/>
<circle cx="448.1" cy="289.6" r="2.60" fill="#DD8452" stroke="#fff" stroke-width="0.50"/>
<circle cx="416.3" cy="279.9" r="2.60" fill="#DD8452" stroke="#fff" stroke-width="0.50"/>
<circle cx="446.6" cy="279.0" r="2.60" fill="#DD8452" stroke="#fff" stroke-width="0.50"/>
<circle cx="424.1" cy="290.3" r="2.60" fill="#DD8452" stroke="#fff" stroke-width="0.50"/>
<circle cx="470.8" cy="266.8" r="2.60" fill="#DD8452" stroke="#fff" stroke-width="0.50"/>
<circle cx="468.9" cy="270.0" r="2.60" fill="#DD8452" stroke="#fff" stroke-width="0.50"/>
<circle cx="460.5" cy="259.4" r="2.60" fill="#DD8452" stroke="#fff" stroke-width="0.50"/>
<circle cx="440.3" cy="302.4" r="2.60" fill="#DD8452" stroke="#fff" stroke-width="0.50"/>
<circle cx="451.5" cy="262.3" r="2.60" fill="#DD8452" stroke="#fff" stroke-width="0.50"/>
<circle cx="471.0" cy="238.2" r="2.60" fill="#DD8452" stroke="#fff" stroke-width="0.50"/>
<circle cx="456.6" cy="283.6" r="2.60" fill="#DD8452" stroke="#fff" stroke-width="0.50"/>
<circle cx="435.2" cy="271.2" r="2.60" fill="#DD8452" stroke="#fff" stroke-width="0.50"/>
<circle cx="466.5" cy="252.2" r="2.60" fill="#DD8452" stroke="#fff" stroke-width="0.50"/>
<circle cx="458.2" cy="263.8" r="2.60" fill="#DD8452" stroke="#fff" stroke-width="0.50"/>
<circle cx="447.2" cy="256.1" r="2.60" fill="#DD8452" stroke="#fff" stroke-width="0.50"/>
<circle cx="472.5" cy="242.3" r="2.60" fill="#DD8452" stroke="#fff" stroke-width="0.50"/>
<circle cx="456.0" cy="270.4" r="2.60" fill="#DD8452" stroke="#fff" stroke-width="0.50"/>
<circle cx="458.6" cy="251.7" r="2.60" fill="#DD8452" stroke="#fff" stroke-width="0.50"/>
<circle cx="474.7" cy="248.9" r="2.60" fill="#DD8452" stroke="#fff" stroke-width="0.50"/>
<circle cx="472.2" cy="245.8" r="2.60" fill="#DD8452" stroke="#fff" stroke-width="0.50"/>
<circle cx="449.6" cy="281.2" r="2.60" fill="#DD8452" stroke="#fff" stroke-width="0.50"/>
<circle cx="462.4" cy="256.4" r="2.60" fill="#DD8452" stroke="#fff" stroke-width="0.50"/>
<circle cx="438.2" cy="266.1" r="2.60" fill="#DD8452" stroke="#fff" stroke-width="0.50"/>
<circle cx="436.0" cy="301.1" r="2.60" fill="#DD8452" stroke="#fff" stroke-width="0.50"/>
<circle cx="416.1" cy="292.9" r="2.60" fill="#DD8452" stroke="#fff" stroke-width="0.50"/>
<circle cx="453.3" cy="257.6" r="2.60" fill="#DD8452" stroke="#fff" stroke-width="0.50"/>
<circle cx="432.7" cy="266.6" r="2.60" fill="#DD8452" stroke="#fff" stroke-width="0.50"/>
<circle cx="423.1" cy="274.5" r="2.60" fill="#DD8452" stroke="#fff" stroke-width="0.50"/>
<circle cx="450.8" cy="294.0" r="2.60" fill="#DD8452" stroke="#fff" stroke-width="0.50"/>
<circle cx="444.7" cy="258.8" r="2.60" fill="#DD8452" stroke="#fff" stroke-width="0.50"/>
<circle cx="460.6" cy="247.8" r="2.60" fill="#DD8452" stroke="#fff" stroke-width="0.50"/>
<circle cx="434.1" cy="279.7" r="2.60" fill="#DD8452" stroke="#fff" stroke-width="0.50"/>
<circle cx="470.7" cy="263.2" r="2.60" fill="#DD8452" stroke="#fff" stroke-width="0.50"/>
<circle cx="460.5" cy="273.8" r="2.60" fill="#DD8452" stroke="#fff" stroke-width="0.50"/>
<circle cx="461.9" cy="269.9" r="2.60" fill="#DD8452" stroke="#fff" stroke-width="0.50"/>
<circle cx="448.0" cy="268.5" r="2.60" fill="#DD8452" stroke="#fff" stroke-width="0.50"/>
<circle cx="455.7" cy="254.6" r="2.60" fill="#DD8452" stroke="#fff" stroke-width="0.50"/>
<circle cx="464.7" cy="238.9" r="2.60" fill="#DD8452" stroke="#fff" stroke-width="0.50"/>
<circle cx="445.1" cy="266.6" r="2.60" fill="#DD8452" stroke="#fff" stroke-width="0.50"/>
<circle cx="427.5" cy="288.4" r="2.60" fill="#DD8452" stroke="#fff" stroke-width="0.50"/>
<circle cx="456.7" cy="243.9" r="2.60" fill="#DD8452" stroke="#fff" stroke-width="0.50"/>
<circle cx="439.2" cy="291.8" r="2.60" fill="#DD8452" stroke="#fff" stroke-width="0.50"/>
<circle cx="468.0" cy="256.8" r="2.60" fill="#DD8452" stroke="#fff" stroke-width="0.50"/>
<circle cx="461.8" cy="266.6" r="2.60" fill="#DD8452" stroke="#fff" stroke-width="0.50"/>
<circle cx="466.7" cy="245.0" r="2.60" fill="#DD8452" stroke="#fff" stroke-width="0.50"/>
<circle cx="412.4" cy="300.0" r="2.60" fill="#DD8452" stroke="#fff" stroke-width="0.50"/>
<circle cx="468.4" cy="274.6" r="2.60" fill="#DD8452" stroke="#fff" stroke-width="0.50"/>
<circle cx="472.9" cy="230.9" r="2.60" fill="#DD8452" stroke="#fff" stroke-width="0.50"/>
<circle cx="424.2" cy="278.9" r="2.60" fill="#DD8452" stroke="#fff" stroke-width="0.50"/>
<circle cx="452.2" cy="285.1" r="2.60" fill="#DD8452" stroke="#fff" stroke-width="0.50"/>
<circle cx="444.1" cy="298.0" r="2.60" fill="#DD8452" stroke="#fff" stroke-width="0.50"/>
<circle cx="440.3" cy="277.3" r="2.60" fill="#DD8452" stroke="#fff" stroke-width="0.50"/>
<circle cx="455.0" cy="287.7" r="2.60" fill="#DD8452" stroke="#fff" stroke-width="0.50"/>
<circle cx="442.0" cy="267.9" r="2.60" fill="#DD8452" stroke="#fff" stroke-width="0.50"/>
<circle cx="454.2" cy="247.8" r="2.60" fill="#DD8452" stroke="#fff" stroke-width="0.50"/>
<circle cx="453.8" cy="279.6" r="2.60" fill="#DD8452" stroke="#fff" stroke-width="0.50"/>
<circle cx="465.5" cy="271.4" r="2.60" fill="#DD8452" stroke="#fff" stroke-width="0.50"/>
<circle cx="424.3" cy="267.9" r="2.60" fill="#DD8452" stroke="#fff" stroke-width="0.50"/>
<circle cx="440.5" cy="284.5" r="2.60" fill="#DD8452" stroke="#fff" stroke-width="0.50"/>
<circle cx="445.9" cy="262.2" r="2.60" fill="#DD8452" stroke="#fff" stroke-width="0.50"/>
<circle cx="428.1" cy="282.8" r="2.60" fill="#DD8452" stroke="#fff" stroke-width="0.50"/>
<circle cx="434.4" cy="304.4" r="2.60" fill="#DD8452" stroke="#fff" stroke-width="0.50"/>
<circle cx="450.4" cy="251.2" r="2.60" fill="#DD8452" stroke="#fff" stroke-width="0.50"/>
<circle cx="415.4" cy="304.1" r="2.60" fill="#DD8452" stroke="#fff" stroke-width="0.50"/>
<circle cx="435.9" cy="296.4" r="2.60" fill="#DD8452" stroke="#fff" stroke-width="0.50"/>
<circle cx="420.2" cy="285.8" r="2.60" fill="#DD8452" stroke="#fff" stroke-width="0.50"/>
<circle cx="447.5" cy="294.7" r="2.60" fill="#DD8452" stroke="#fff" stroke-width="0.50"/>
<circle cx="434.8" cy="290.2" r="2.60" fill="#DD8452" stroke="#fff" stroke-width="0.50"/>
<circle cx="420.4" cy="300.1" r="2.60" fill="#DD8452" stroke="#fff" stroke-width="0.50"/>
<circle cx="462.0" cy="280.8" r="2.60" fill="#DD8452" stroke="#fff" stroke-width="0.50"/>
<circle cx="454.5" cy="266.3" r="2.60" fill="#DD8452" stroke="#fff" stroke-width="0.50"/>
<circle cx="450.2" cy="277.6" r="2.60" fill="#DD8452" stroke="#fff" stroke-width="0.50"/>
<circle cx="426.2" cy="300.4" r="2.60" fill="#DD8452" stroke="#fff" stroke-width="0.50"/>
<circle cx="429.9" cy="273.2" r="2.60" fill="#DD8452" stroke="#fff" stroke-width="0.50"/>
<circle cx="419.2" cy="278.1" r="2.60" fill="#DD8452" stroke="#fff" stroke-width="0.50"/>
<circle cx="413.4" cy="295.5" r="2.60" fill="#DD8452" stroke="#fff" stroke-width="0.50"/>
<circle cx="461.0" cy="241.0" r="2.60" fill="#DD8452" stroke="#fff" stroke-width="0.50"/>
<circle cx="437.1" cy="287.4" r="2.60" fill="#DD8452" stroke="#fff" stroke-width="0.50"/>
<circle cx="464.2" cy="264.1" r="2.60" fill="#DD8452" stroke="#fff" stroke-width="0.50"/>
<circle cx="472.1" cy="259.4" r="2.60" fill="#DD8452" stroke="#fff" stroke-width="0.50"/>
<circle cx="474.5" cy="239.0" r="2.60" fill="#DD8452" stroke="#fff" stroke-width="0.50"/>
<circle cx="418.8" cy="294.9" r="2.60" fill="#DD8452" stroke="#fff" stroke-width="0.50"/>
<circle cx="431.8" cy="302.1" r="2.60" fill="#DD8452" stroke="#fff" stroke-width="0.50"/>
<circle cx="422.6" cy="270.9" r="2.60" fill="#DD8452" stroke="#fff" stroke-width="0.50"/>
<circle cx="458.7" cy="256.6" r="2.60" fill="#DD8452" stroke="#fff" stroke-width="0.50"/>
<circle cx="452.0" cy="271.4" r="2.60" fill="#DD8452" stroke="#fff" stroke-width="0.50"/>
<circle cx="419.0" cy="273.7" r="2.60" fill="#DD8452" stroke="#fff" stroke-width="0.50"/>
<circle cx="445.3" cy="287.6" r="2.60" fill="#DD8452" stroke="#fff" stroke-width="0.50"/>
<circle cx="466.1" cy="278.6" r="2.60" fill="#DD8452" stroke="#fff" stroke-width="0.50"/>
<circle cx="467.0" cy="248.3" r="2.60" fill="#DD8452" stroke="#fff" stroke-width="0.50"/>
<circle cx="438.8" cy="269.8" r="2.60" fill="#DD8452" stroke="#fff" stroke-width="0.50"/>
<circle cx="441.9" cy="281.0" r="2.60" fill="#DD8452" stroke="#fff" stroke-width="0.50"/>
<circle cx="460.1" cy="244.3" r="2.60" fill="#DD8452" stroke="#fff" stroke-width="0.50"/>
<circle cx="435.7" cy="260.1" r="2.60" fill="#DD8452" stroke="#fff" stroke-width="0.50"/>
<circle cx="475.4" cy="244.1" r="2.60" fill="#DD8452" stroke="#fff" stroke-width="0.50"/>
<circle cx="442.2" cy="263.4" r="2.60" fill="#DD8452" stroke="#fff" stroke-width="0.50"/>
<circle cx="472.9" cy="255.3" r="2.60" fill="#DD8452" stroke="#fff" stroke-width="0.50"/>
<circle cx="421.1" cy="281.2" r="2.60" fill="#DD8452" stroke="#fff" stroke-width="0.50"/>
<circle cx="458.3" cy="276.6" r="2.60" fill="#DD8452" stroke="#fff" stroke-width="0.50"/>
<circle cx="430.9" cy="289.6" r="2.60" fill="#DD8452" stroke="#fff" stroke-width="0.50"/>
<circle cx="418.8" cy="303.7" r="2.60" fill="#DD8452" stroke="#fff" stroke-width="0.50"/>
<circle cx="434.6" cy="283.5" r="2.60" fill="#DD8452" stroke="#fff" stroke-width="0.50"/>
<circle cx="448.6" cy="285.7" r="2.60" fill="#DD8452" stroke="#fff" stroke-width="0.50"/>
<circle cx="431.5" cy="270.0" r="2.60" fill="#DD8452" stroke="#fff" stroke-width="0.50"/>
<circle cx="447.1" cy="271.7" r="2.60" fill="#DD8452" stroke="#fff" stroke-width="0.50"/>
<circle cx="492.5" cy="230.9" r="2.60" fill="#DD8452" stroke="#fff" stroke-width="0.50"/>
<circle cx="514.9" cy="209.5" r="2.60" fill="#DD8452" stroke="#fff" stroke-width="0.50"/>
<circle cx="454.2" cy="286.9" r="2.60" fill="#DD8452" stroke="#fff" stroke-width="0.50"/>
<circle cx="491.8" cy="246.3" r="2.60" fill="#DD8452" stroke="#fff" stroke-width="0.50"/>
<circle cx="540.9" cy="182.9" r="2.60" fill="#DD8452" stroke="#fff" stroke-width="0.50"/>
<circle cx="457.3" cy="284.8" r="2.60" fill="#DD8452" stroke="#fff" stroke-width="0.50"/>
<circle cx="519.1" cy="209.8" r="2.60" fill="#DD8452" stroke="#fff" stroke-width="0.50"/>
<circle cx="527.6" cy="204.3" r="2.60" fill="#DD8452" stroke="#fff" stroke-width="0.50"/>
<circle cx="468.6" cy="238.6" r="2.60" fill="#DD8452" stroke="#fff" stroke-width="0.50"/>
<circle cx="526.1" cy="197.8" r="2.60" fill="#DD8452" stroke="#fff" stroke-width="0.50"/>
<circle cx="503.2" cy="218.3" r="2.60" fill="#DD8452" stroke="#fff" stroke-width="0.50"/>
<circle cx="517.6" cy="198.8" r="2.60" fill="#DD8452" stroke="#fff" stroke-width="0.50"/>
<circle cx="551.5" cy="164.6" r="2.60" fill="#DD8452" stroke="#fff" stroke-width="0.50"/>
<circle cx="500.4" cy="206.7" r="2.60" fill="#DD8452" stroke="#fff" stroke-width="0.50"/>
<circle cx="502.0" cy="228.5" r="2.60" fill="#DD8452" stroke="#fff" stroke-width="0.50"/>
<circle cx="465.1" cy="262.8" r="2.60" fill="#DD8452" stroke="#fff" stroke-width="0.50"/>
<circle cx="457.3" cy="251.2" r="2.60" fill="#DD8452" stroke="#fff" stroke-width="0.50"/>
<circle cx="505.4" cy="230.8" r="2.60" fill="#DD8452" stroke="#fff" stroke-width="0.50"/>
<circle cx="516.2" cy="203.6" r="2.60" fill="#DD8452" stroke="#fff" stroke-width="0.50"/>
<circle cx="538.2" cy="177.8" r="2.60" fill="#DD8452" stroke="#fff" stroke-width="0.50"/>
<circle cx="522.6" cy="199.7" r="2.60" fill="#DD8452" stroke="#fff" stroke-width="0.50"/>
<circle cx="455.4" cy="274.5" r="2.60" fill="#DD8452" stroke="#fff" stroke-width="0.50"/>
<circle cx="462.2" cy="267.3" r="2.60" fill="#DD8452" stroke="#fff" stroke-width="0.50"/>
<circle cx="567.5" cy="145.2" r="2.60" fill="#DD8452" stroke="#fff" stroke-width="0.50"/>
<circle cx="529.6" cy="193.5" r="2.60" fill="#DD8452" stroke="#fff" stroke-width="0.50"/>
<circle cx="506.4" cy="209.8" r="2.60" fill="#DD8452" stroke="#fff" stroke-width="0.50"/>
<circle cx="504.7" cy="207.0" r="2.60" fill="#DD8452" stroke="#fff" stroke-width="0.50"/>
<circle cx="483.9" cy="233.3" r="2.60" fill="#DD8452" stroke="#fff" stroke-width="0.50"/>
<circle cx="509.2" cy="216.5" r="2.60" fill="#DD8452" stroke="#fff" stroke-width="0.50"/>
<circle cx="490.3" cy="218.8" r="2.60" fill="#DD8452" stroke="#fff" stroke-width="0.50"/>
<circle cx="542.0" cy="166.7" r="2.60" fill="#DD8452" stroke="#fff" stroke-width="0.50"/>
<circle cx="483.2" cy="228.8" r="2.60" fill="#DD8452" stroke="#fff" stroke-width="0.50"/>
<circle cx="474.0" cy="239.3" r="2.60" fill="#DD8452" stroke="#fff" stroke-width="0.50"/>
<circle cx="510.9" cy="207.5" r="2.60" fill="#DD8452" stroke="#fff" stroke-width="0.50"/>
<circle cx="523.4" cy="194.6" r="2.60" fill="#DD8452" stroke="#fff" stroke-width="0.50"/>
<circle cx="452.8" cy="293.7" r="2.60" fill="#DD8452" stroke="#fff" stroke-width="0.50"/>
<circle cx="489.8" cy="239.4" r="2.60" fill="#DD8452" stroke="#fff" stroke-width="0.50"/>
<circle cx="540.2" cy="171.5" r="2.60" fill="#DD8452" stroke="#fff" stroke-width="0.50"/>
<circle cx="510.0" cy="202.2" r="2.60" fill="#DD8452" stroke="#fff" stroke-width="0.50"/>
<circle cx="503.0" cy="223.7" r="2.60" fill="#DD8452" stroke="#fff" stroke-width="0.50"/>
<circle cx="481.1" cy="247.0" r="2.60" fill="#DD8452" stroke="#fff" stroke-width="0.50"/>
<circle cx="460.5" cy="252.1" r="2.60" fill="#DD8452" stroke="#fff" stroke-width="0.50"/>
<circle cx="532.4" cy="195.4" r="2.60" fill="#DD8452" stroke="#fff" stroke-width="0.50"/>
<circle cx="452.3" cy="249.0" r="2.60" fill="#DD8452" stroke="#fff" stroke-width="0.50"/>
<circle cx="473.2" cy="231.3" r="2.60" fill="#DD8452" stroke="#fff" stroke-width="0.50"/>
<circle cx="473.0" cy="251.5" r="2.60" fill="#DD8452" stroke="#fff" stroke-width="0.50"/>
<circle cx="465.6" cy="243.3" r="2.60" fill="#DD8452" stroke="#fff" stroke-width="0.50"/>
<circle cx="525.4" cy="192.0" r="2.60" fill="#DD8452" stroke="#fff" stroke-width="0.50"/>
<circle cx="536.3" cy="187.9" r="2.60" fill="#DD8452" stroke="#fff" stroke-width="0.50"/>
<circle cx="530.3" cy="183.4" r="2.60" fill="#DD8452" stroke="#fff" stroke-width="0.50"/>
<circle cx="543.1" cy="178.4" r="2.60" fill="#DD8452" stroke="#fff" stroke-width="0.50"/>
<circle cx="464.2" cy="255.8" r="2.60" fill="#DD8452" stroke="#fff" stroke-width="0.50"/>
<circle cx="515.6" cy="217.6" r="2.60" fill="#DD8452" stroke="#fff" stroke-width="0.50"/>
<circle cx="496.6" cy="224.5" r="2.60" fill="#DD8452" stroke="#fff" stroke-width="0.50"/>
<circle cx="472.9" cy="262.2" r="2.60" fill="#DD8452" stroke="#fff" stroke-width="0.50"/>
<circle cx="476.4" cy="252.8" r="2.60" fill="#DD8452" stroke="#fff" stroke-width="0.50"/>
<circle cx="459.5" cy="244.2" r="2.60" fill="#DD8452" stroke="#fff" stroke-width="0.50"/>
<circle cx="582.5" cy="135.2" r="2.60" fill="#DD8452" stroke="#fff" stroke-width="0.50"/>
<circle cx="566.6" cy="149.3" r="2.60" fill="#DD8452" stroke="#fff" stroke-width="0.50"/>
<circle cx="477.4" cy="228.0" r="2.60" fill="#DD8452" stroke="#fff" stroke-width="0.50"/>
<circle cx="485.9" cy="236.9" r="2.60" fill="#DD8452" stroke="#fff" stroke-width="0.50"/>
<circle cx="497.4" cy="215.4" r="2.60" fill="#DD8452" stroke="#fff" stroke-width="0.50"/>
<circle cx="455.9" cy="266.9" r="2.60" fill="#DD8452" stroke="#fff" stroke-width="0.50"/>
<circle cx="506.7" cy="223.0" r="2.60" fill="#DD8452" stroke="#fff" stroke-width="0.50"/>
<circle cx="476.4" cy="260.4" r="2.60" fill="#DD8452" stroke="#fff" stroke-width="0.50"/>
<circle cx="553.8" cy="159.8" r="2.60" fill="#DD8452" stroke="#fff" stroke-width="0.50"/>
<circle cx="591.7" cy="125.0" r="2.60" fill="#DD8452" stroke="#fff" stroke-width="0.50"/>
<circle cx="574.0" cy="145.8" r="2.60" fill="#DD8452" stroke="#fff" stroke-width="0.50"/>
<circle cx="483.8" cy="241.9" r="2.60" fill="#DD8452" stroke="#fff" stroke-width="0.50"/>
<circle cx="495.4" cy="239.5" r="2.60" fill="#DD8452" stroke="#fff" stroke-width="0.50"/>
<circle cx="505.3" cy="213.0" r="2.60" fill="#DD8452" stroke="#fff" stroke-width="0.50"/>
<circle cx="467.7" cy="270.1" r="2.60" fill="#DD8452" stroke="#fff" stroke-width="0.50"/>
<circle cx="501.6" cy="215.1" r="2.60" fill="#DD8452" stroke="#fff" stroke-width="0.50"/>
<circle cx="453.2" cy="262.4" r="2.60" fill="#DD8452" stroke="#fff" stroke-width="0.50"/>
<circle cx="534.6" cy="176.7" r="2.60" fill="#DD8452" stroke="#fff" stroke-width="0.50"/>
<circle cx="468.5" cy="273.9" r="2.60" fill="#DD8452" stroke="#fff" stroke-width="0.50"/>
<circle cx="497.2" cy="233.7" r="2.60" fill="#DD8452" stroke="#fff" stroke-width="0.50"/>
<circle cx="508.4" cy="219.6" r="2.60" fill="#DD8452" stroke="#fff" stroke-width="0.50"/>
<circle cx="522.8" cy="203.7" r="2.60" fill="#DD8452" stroke="#fff" stroke-width="0.50"/>
<circle cx="519.7" cy="192.2" r="2.60" fill="#DD8452" stroke="#fff" stroke-width="0.50"/>
<circle cx="486.4" cy="225.9" r="2.60" fill="#DD8452" stroke="#fff" stroke-width="0.50"/>
<circle cx="541.0" cy="175.2" r="2.60" fill="#DD8452" stroke="#fff" stroke-width="0.50"/>
<circle cx="460.6" cy="256.2" r="2.60" fill="#DD8452" stroke="#fff" stroke-width="0.50"/>
<circle cx="562.4" cy="149.4" r="2.60" fill="#DD8452" stroke="#fff" stroke-width="0.50"/>
<circle cx="452.5" cy="256.7" r="2.60" fill="#DD8452" stroke="#fff" stroke-width="0.50"/>
<circle cx="476.4" cy="241.8" r="2.60" fill="#DD8452" stroke="#fff" stroke-width="0.50"/>
<circle cx="480.6" cy="237.8" r="2.60" fill="#DD8452" stroke="#fff" stroke-width="0.50"/>
<circle cx="462.2" cy="238.8" r="2.60" fill="#DD8452" stroke="#fff" stroke-width="0.50"/>
<circle cx="519.4" cy="187.9" r="2.60" fill="#DD8452" stroke="#fff" stroke-width="0.50"/>
<circle cx="494.5" cy="219.9" r="2.60" fill="#DD8452" stroke="#fff" stroke-width="0.50"/>
<circle cx="486.1" cy="249.0" r="2.60" fill="#DD8452" stroke="#fff" stroke-width="0.50"/>
<circle cx="471.5" cy="246.4" r="2.60" fill="#DD8452" stroke="#fff" stroke-width="0.50"/>
<circle cx="572.8" cy="140.9" r="2.60" fill="#DD8452" stroke="#fff" stroke-width="0.50"/>
<circle cx="547.6" cy="165.2" r="2.60" fill="#DD8452" stroke="#fff" stroke-width="0.50"/>
<circle cx="456.1" cy="291.5" r="2.60" fill="#DD8452" stroke="#fff" stroke-width="0.50"/>
<circle cx="465.1" cy="251.3" r="2.60" fill="#DD8452" stroke="#fff" stroke-width="0.50"/>
<circle cx="458.9" cy="276.8" r="2.60" fill="#DD8452" stroke="#fff" stroke-width="0.50"/>
<circle cx="479.4" cy="233.2" r="2.60" fill="#DD8452" stroke="#fff" stroke-width="0.50"/>
<circle cx="530.7" cy="200.1" r="2.60" fill="#DD8452" stroke="#fff" stroke-width="0.50"/>
<circle cx="502.6" cy="210.2" r="2.60" fill="#DD8452" stroke="#fff" stroke-width="0.50"/>
<circle cx="474.4" cy="248.2" r="2.60" fill="#DD8452" stroke="#fff" stroke-width="0.50"/>
<circle cx="460.5" cy="248.8" r="2.60" fill="#DD8452" stroke="#fff" stroke-width="0.50"/>
<circle cx="457.2" cy="270.3" r="2.60" fill="#DD8452" stroke="#fff" stroke-width="0.50"/>
<circle cx="469.4" cy="260.9" r="2.60" fill="#DD8452" stroke="#fff" stroke-width="0.50"/>
<circle cx="465.5" cy="259.0" r="2.60" fill="#DD8452" stroke="#fff" stroke-width="0.50"/>
<circle cx="461.3" cy="274.6" r="2.60" fill="#DD8452" stroke="#fff" stroke-width="0.50"/>
<circle cx="484.2" cy="245.4" r="2.60" fill="#DD8452" stroke="#fff" stroke-width="0.50"/>
<circle cx="543.5" cy="171.3" r="2.60" fill="#DD8452" stroke="#fff" stroke-width="0.50"/>
<circle cx="482.5" cy="250.8" r="2.60" fill="#DD8452" stroke="#fff" stroke-width="0.50"/>
<circle cx="486.4" cy="219.7" r="2.60" fill="#DD8452" stroke="#fff" stroke-width="0.50"/>
<circle cx="488.5" cy="234.0" r="2.60" fill="#DD8452" stroke="#fff" stroke-width="0.50"/>
<circle cx="513.5" cy="201.6" r="2.60" fill="#DD8452" stroke="#fff" stroke-width="0.50"/>
<circle cx="498.6" cy="219.8" r="2.60" fill="#DD8452" stroke="#fff" stroke-width="0.50"/>
<circle cx="533.6" cy="184.0" r="2.60" fill="#DD8452" stroke="#fff" stroke-width="0.50"/>
<circle cx="486.3" cy="230.5" r="2.60" fill="#DD8452" stroke="#fff" stroke-width="0.50"/>
<circle cx="557.4" cy="154.5" r="2.60" fill="#DD8452" stroke="#fff" stroke-width="0.50"/>
<circle cx="467.9" cy="266.7" r="2.60" fill="#DD8452" stroke="#fff" stroke-width="0.50"/>
<circle cx="544.1" cy="184.3" r="2.60" fill="#DD8452" stroke="#fff" stroke-width="0.50"/>
<circle cx="453.8" cy="279.2" r="2.60" fill="#DD8452" stroke="#fff" stroke-width="0.50"/>
<circle cx="470.6" cy="254.5" r="2.60" fill="#DD8452" stroke="#fff" stroke-width="0.50"/>
<circle cx="461.3" cy="261.4" r="2.60" fill="#DD8452" stroke="#fff" stroke-width="0.50"/>
<circle cx="495.8" cy="228.1" r="2.60" fill="#DD8452" stroke="#fff" stroke-width="0.50"/>
<circle cx="534.4" cy="191.6" r="2.60" fill="#DD8452" stroke="#fff" stroke-width="0.50"/>
<circle cx="491.1" cy="227.7" r="2.60" fill="#DD8452" stroke="#fff" stroke-width="0.50"/>
<circle cx="468.3" cy="246.7" r="2.60" fill="#DD8452" stroke="#fff" stroke-width="0.50"/>
<circle cx="456.2" cy="243.6" r="2.60" fill="#DD8452" stroke="#fff" stroke-width="0.50"/>
<circle cx="537.0" cy="169.8" r="2.60" fill="#DD8452" stroke="#fff" stroke-width="0.50"/>
<circle cx="489.3" cy="223.1" r="2.60" fill="#DD8452" stroke="#fff" stroke-width="0.50"/>
<circle cx="478.3" cy="256.3" r="2.60" fill="#DD8452" stroke="#fff" stroke-width="0.50"/>
<circle cx="461.6" cy="281.2" r="2.60" fill="#DD8452" stroke="#fff" stroke-width="0.50"/>
<circle cx="519.8" cy="196.3" r="2.60" fill="#DD8452" stroke="#fff" stroke-width="0.50"/>
<circle cx="526.4" cy="201.1" r="2.60" fill="#DD8452" stroke="#fff" stroke-width="0.50"/>
<circle cx="454.4" cy="253.8" r="2.60" fill="#DD8452" stroke="#fff" stroke-width="0.50"/>
<circle cx="511.7" cy="212.6" r="2.60" fill="#DD8452" stroke="#fff" stroke-width="0.50"/>
<circle cx="557.0" cy="157.7" r="2.60" fill="#DD8452" stroke="#fff" stroke-width="0.50"/>
<circle cx="476.1" cy="236.1" r="2.60" fill="#DD8452" stroke="#fff" stroke-width="0.50"/>
<circle cx="490.8" cy="243.2" r="2.60" fill="#DD8452" stroke="#fff" stroke-width="0.50"/>
<circle cx="457.3" cy="281.1" r="2.60" fill="#DD8452" stroke="#fff" stroke-width="0.50"/>
<circle cx="480.7" cy="253.5" r="2.60" fill="#DD8452" stroke="#fff" stroke-width="0.50"/>
<circle cx="487.2" cy="242.4" r="2.60" fill="#DD8452" stroke="#fff" stroke-width="0.50"/>
<circle cx="522.5" cy="190.4" r="2.60" fill="#DD8452" stroke="#fff" stroke-width="0.50"/>
<circle cx="492.2" cy="234.4" r="2.60" fill="#DD8452" stroke="#fff" stroke-width="0.50"/>
<circle cx="456.4" cy="247.7" r="2.60" fill="#DD8452" stroke="#fff" stroke-width="0.50"/>
<circle cx="527.2" cy="189.4" r="2.60" fill="#DD8452" stroke="#fff" stroke-width="0.50"/>
<circle cx="465.2" cy="236.4" r="2.60" fill="#DD8452" stroke="#fff" stroke-width="0.50"/>
<circle cx="492.8" cy="223.3" r="2.60" fill="#DD8452" stroke="#fff" stroke-width="0.50"/>
<circle cx="506.8" cy="204.5" r="2.60" fill="#DD8452" stroke="#fff" stroke-width="0.50"/>
<circle cx="452.1" cy="289.5" r="2.60" fill="#DD8452" stroke="#fff" stroke-width="0.50"/>
<circle cx="515.5" cy="220.8" r="2.60" fill="#DD8452" stroke="#fff" stroke-width="0.50"/>
<circle cx="470.4" cy="243.2" r="2.60" fill="#DD8452" stroke="#fff" stroke-width="0.50"/>
<circle cx="531.9" cy="188.8" r="2.60" fill="#DD8452" stroke="#fff" stroke-width="0.50"/>
<circle cx="499.5" cy="231.2" r="2.60" fill="#DD8452" stroke="#fff" stroke-width="0.50"/>
<circle cx="565.1" cy="153.0" r="2.60" fill="#DD8452" stroke="#fff" stroke-width="0.50"/>
<circle cx="579.6" cy="133.6" r="2.60" fill="#DD8452" stroke="#fff" stroke-width="0.50"/>
<circle cx="529.3" cy="197.2" r="2.60" fill="#DD8452" stroke="#fff" stroke-width="0.50"/>
<circle cx="452.4" cy="268.5" r="2.60" fill="#DD8452" stroke="#fff" stroke-width="0.50"/>
<circle cx="464.7" cy="247.4" r="2.60" fill="#DD8452" stroke="#fff" stroke-width="0.50"/>
<circle cx="463.5" cy="271.4" r="2.60" fill="#DD8452" stroke="#fff" stroke-width="0.50"/>
<circle cx="464.5" cy="275.3" r="2.60" fill="#DD8452" stroke="#fff" stroke-width="0.50"/>
<circle cx="511.7" cy="218.9" r="2.60" fill="#DD8452" stroke="#fff" stroke-width="0.50"/>
<circle cx="519.9" cy="201.6" r="2.60" fill="#DD8452" stroke="#fff" stroke-width="0.50"/>
<circle cx="468.5" cy="233.5" r="2.60" fill="#DD8452" stroke="#fff" stroke-width="0.50"/>
<circle cx="580.0" cy="142.1" r="2.60" fill="#DD8452" stroke="#fff" stroke-width="0.50"/>
<circle cx="504.9" cy="226.4" r="2.60" fill="#DD8452" stroke="#fff" stroke-width="0.50"/>
<circle cx="475.1" cy="255.9" r="2.60" fill="#DD8452" stroke="#fff" stroke-width="0.50"/>
<circle cx="470.2" cy="249.5" r="2.60" fill="#DD8452" stroke="#fff" stroke-width="0.50"/>
<circle cx="536.5" cy="182.0" r="2.60" fill="#DD8452" stroke="#fff" stroke-width="0.50"/>
<circle cx="457.6" cy="262.7" r="2.60" fill="#DD8452" stroke="#fff" stroke-width="0.50"/>
<circle cx="479.2" cy="243.4" r="2.60" fill="#DD8452" stroke="#fff" stroke-width="0.50"/>
<circle cx="549.8" cy="167.6" r="2.60" fill="#DD8452" stroke="#fff" stroke-width="0.50"/>
<circle cx="488.4" cy="246.4" r="2.60" fill="#DD8452" stroke="#fff" stroke-width="0.50"/>
<circle cx="545.0" cy="168.0" r="2.60" fill="#DD8452" stroke="#fff" stroke-width="0.50"/>
<circle cx="499.7" cy="223.2" r="2.60" fill="#DD8452" stroke="#fff" stroke-width="0.50"/>
<circle cx="544.2" cy="174.9" r="2.60" fill="#DD8452" stroke="#fff" stroke-width="0.50"/>
<circle cx="471.9" cy="258.0" r="2.60" fill="#DD8452" stroke="#fff" stroke-width="0.50"/>
<circle cx="452.5" cy="284.1" r="2.60" fill="#DD8452" stroke="#fff" stroke-width="0.50"/>
<circle cx="460.5" cy="284.3" r="2.60" fill="#DD8452" stroke="#fff" stroke-width="0.50"/>
<circle cx="459.1" cy="265.9" r="2.60" fill="#DD8452" stroke="#fff" stroke-width="0.50"/>
<circle cx="477.5" cy="247.4" r="2.60" fill="#DD8452" stroke="#fff" stroke-width="0.50"/>
<circle cx="452.2" cy="271.8" r="2.60" fill="#DD8452" stroke="#fff" stroke-width="0.50"/>
<circle cx="517.2" cy="207.2" r="2.60" fill="#DD8452" stroke="#fff" stroke-width="0.50"/>
<circle cx="458.6" cy="288.1" r="2.60" fill="#DD8452" stroke="#fff" stroke-width="0.50"/>
<circle cx="514.0" cy="197.7" r="2.60" fill="#DD8452" stroke="#fff" stroke-width="0.50"/>
<circle cx="484.4" cy="223.1" r="2.60" fill="#DD8452" stroke="#fff" stroke-width="0.50"/>
<circle cx="476.2" cy="232.6" r="2.60" fill="#DD8452" stroke="#fff" stroke-width="0.50"/>
<circle cx="452.4" cy="296.9" r="2.60" fill="#DD8452" stroke="#fff" stroke-width="0.50"/>
<circle cx="559.9" cy="151.7" r="2.60" fill="#DD8452" stroke="#fff" stroke-width="0.50"/>
<circle cx="471.3" cy="270.6" r="2.60" fill="#DD8452" stroke="#fff" stroke-width="0.50"/>
<circle cx="471.7" cy="236.7" r="2.60" fill="#DD8452" stroke="#fff" stroke-width="0.50"/>
<circle cx="537.7" cy="174.6" r="2.60" fill="#DD8452" stroke="#fff" stroke-width="0.50"/>
<circle cx="452.6" cy="276.2" r="2.60" fill="#DD8452" stroke="#fff" stroke-width="0.50"/>
<circle cx="467.3" cy="255.0" r="2.60" fill="#DD8452" stroke="#fff" stroke-width="0.50"/>
<circle cx="525.5" cy="207.6" r="2.60" fill="#DD8452" stroke="#fff" stroke-width="0.50"/>
<circle cx="537.8" cy="166.4" r="2.60" fill="#DD8452" stroke="#fff" stroke-width="0.50"/>
<circle cx="494.4" cy="211.1" r="2.60" fill="#DD8452" stroke="#fff" stroke-width="0.50"/>
<circle cx="499.3" cy="226.6" r="2.60" fill="#DD8452" stroke="#fff" stroke-width="0.50"/>
<circle cx="470.3" cy="264.3" r="2.60" fill="#DD8452" stroke="#fff" stroke-width="0.50"/>
<circle cx="457.0" cy="256.1" r="2.60" fill="#DD8452" stroke="#fff" stroke-width="0.50"/>
<circle cx="489.9" cy="215.4" r="2.60" fill="#DD8452" stroke="#fff" stroke-width="0.50"/>
<circle cx="499.0" cy="239.6" r="2.60" fill="#DD8452" stroke="#fff" stroke-width="0.50"/>
<circle cx="462.7" cy="244.9" r="2.60" fill="#DD8452" stroke="#fff" stroke-width="0.50"/>
<circle cx="481.0" cy="226.0" r="2.60" fill="#DD8452" stroke="#fff" stroke-width="0.50"/>
<circle cx="512.6" cy="215.8" r="2.60" fill="#DD8452" stroke="#fff" stroke-width="0.50"/>
<circle cx="474.3" cy="244.4" r="2.60" fill="#DD8452" stroke="#fff" stroke-width="0.50"/>
<circle cx="479.0" cy="250.8" r="2.60" fill="#DD8452" stroke="#fff" stroke-width="0.50"/>
<circle cx="458.2" cy="241.0" r="2.60" fill="#DD8452" stroke="#fff" stroke-width="0.50"/>
<circle cx="513.8" cy="206.2" r="2.60" fill="#DD8452" stroke="#fff" stroke-width="0.50"/>
<circle cx="491.1" cy="204.3" r="2.60" fill="#4C72B0" stroke="#fff" stroke-width="0.50"/>
<circle cx="464.8" cy="280.5" r="2.60" fill="#4C72B0" stroke="#fff" stroke-width="0.50"/>
<circle cx="508.0" cy="225.8" r="2.60" fill="#4C72B0" stroke="#fff" stroke-width="0.50"/>
<circle cx="502.6" cy="231.2" r="2.60" fill="#4C72B0" stroke="#fff" stroke-width="0.50"/>
<circle cx="465.5" cy="235.0" r="2.60" fill="#4C72B0" stroke="#fff" stroke-width="0.50"/>
<circle cx="456.2" cy="242.0" r="2.60" fill="#4C72B0" stroke="#fff" stroke-width="0.50"/>
<circle cx="494.1" cy="241.7" r="2.60" fill="#4C72B0" stroke="#fff" stroke-width="0.50"/>
<circle cx="464.7" cy="279.9" r="2.60" fill="#4C72B0" stroke="#fff" stroke-width="0.50"/>
<circle cx="497.0" cy="205.0" r="2.60" fill="#4C72B0" stroke="#fff" stroke-width="0.50"/>
<circle cx="493.9" cy="209.4" r="2.60" fill="#4C72B0" stroke="#fff" stroke-width="0.50"/>
<circle cx="489.3" cy="213.2" r="2.60" fill="#4C72B0" stroke="#fff" stroke-width="0.50"/>
<circle cx="485.4" cy="217.1" r="2.60" fill="#4C72B0" stroke="#fff" stroke-width="0.50"/>
<circle cx="481.5" cy="220.5" r="2.60" fill="#4C72B0" stroke="#fff" stroke-width="0.50"/>
<circle cx="505.5" cy="199.3" r="2.60" fill="#4C72B0" stroke="#fff" stroke-width="0.50"/>
<circle cx="507.0" cy="193.1" r="2.60" fill="#4C72B0" stroke="#fff" stroke-width="0.50"/>
<circle cx="513.2" cy="192.4" r="2.60" fill="#4C72B0" stroke="#fff" stroke-width="0.50"/>
<circle cx="516.3" cy="184.6" r="2.60" fill="#4C72B0" stroke="#fff" stroke-width="0.50"/>
<circle cx="520.2" cy="183.1" r="2.60" fill="#4C72B0" stroke="#fff" stroke-width="0.50"/>
<circle cx="524.8" cy="181.2" r="2.60" fill="#4C72B0" stroke="#fff" stroke-width="0.50"/>
<circle cx="528.7" cy="208.6" r="2.60" fill="#4C72B0" stroke="#fff" stroke-width="0.50"/>
<circle cx="525.6" cy="204.7" r="2.60" fill="#4C72B0" stroke="#fff" stroke-width="0.50"/>
<circle cx="531.8" cy="201.6" r="2.60" fill="#4C72B0" stroke="#fff" stroke-width="0.50"/>
<circle cx="534.1" cy="197.8" r="2.60" fill="#4C72B0" stroke="#fff" stroke-width="0.50"/>
<circle cx="541.1" cy="192.4" r="2.60" fill="#4C72B0" stroke="#fff" stroke-width="0.50"/>
<circle cx="544.1" cy="188.5" r="2.60" fill="#4C72B0" stroke="#fff" stroke-width="0.50"/>
<circle cx="548.0" cy="184.6" r="2.60" fill="#4C72B0" stroke="#fff" stroke-width="0.50"/>
<circle cx="507.8" cy="224.8" r="2.60" fill="#4C72B0" stroke="#fff" stroke-width="0.50"/>
<circle cx="501.6" cy="231.0" r="2.60" fill="#4C72B0" stroke="#fff" stroke-width="0.50"/>
<circle cx="510.9" cy="220.2" r="2.60" fill="#4C72B0" stroke="#fff" stroke-width="0.50"/>
<circle cx="523.3" cy="214.0" r="2.60" fill="#4C72B0" stroke="#fff" stroke-width="0.50"/>
<circle cx="537.0" cy="163.9" r="2.60" fill="#4C72B0" stroke="#fff" stroke-width="0.50"/>
<circle cx="532.4" cy="171.6" r="2.60" fill="#4C72B0" stroke="#fff" stroke-width="0.50"/>
<circle cx="547.1" cy="156.2" r="2.60" fill="#4C72B0" stroke="#fff" stroke-width="0.50"/>
<circle cx="552.5" cy="153.9" r="2.60" fill="#4C72B0" stroke="#fff" stroke-width="0.50"/>
<circle cx="556.4" cy="151.5" r="2.60" fill="#4C72B0" stroke="#fff" stroke-width="0.50"/>
<circle cx="544.0" cy="160.8" r="2.60" fill="#4C72B0" stroke="#fff" stroke-width="0.50"/>
<circle cx="541.7" cy="165.5" r="2.60" fill="#4C72B0" stroke="#fff" stroke-width="0.50"/>
<circle cx="533.2" cy="174.0" r="2.60" fill="#4C72B0" stroke="#fff" stroke-width="0.50"/>
<circle cx="528.5" cy="178.6" r="2.60" fill="#4C72B0" stroke="#fff" stroke-width="0.50"/>
<circle cx="519.3" cy="183.2" r="2.60" fill="#4C72B0" stroke="#fff" stroke-width="0.50"/>
<circle cx="514.6" cy="187.1" r="2.60" fill="#4C72B0" stroke="#fff" stroke-width="0.50"/>
<circle cx="512.3" cy="191.0" r="2.60" fill="#4C72B0" stroke="#fff" stroke-width="0.50"/>
<circle cx="578.8" cy="152.3" r="2.60" fill="#4C72B0" stroke="#fff" stroke-width="0.50"/>
<circle cx="564.1" cy="163.9" r="2.60" fill="#4C72B0" stroke="#fff" stroke-width="0.50"/>
<circle cx="561.0" cy="167.8" r="2.60" fill="#4C72B0" stroke="#fff" stroke-width="0.50"/>
<circle cx="551.0" cy="178.6" r="2.60" fill="#4C72B0" stroke="#fff" stroke-width="0.50"/>
<circle cx="554.8" cy="180.1" r="2.60" fill="#4C72B0" stroke="#fff" stroke-width="0.50"/>
<circle cx="549.4" cy="181.7" r="2.60" fill="#4C72B0" stroke="#fff" stroke-width="0.50"/>
<circle cx="546.3" cy="173.2" r="2.60" fill="#4C72B0" stroke="#fff" stroke-width="0.50"/>
<circle cx="540.9" cy="191.7" r="2.60" fill="#4C72B0" stroke="#fff" stroke-width="0.50"/>
<circle cx="537.0" cy="194.0" r="2.60" fill="#4C72B0" stroke="#fff" stroke-width="0.50"/>
<circle cx="534.0" cy="197.1" r="2.60" fill="#4C72B0" stroke="#fff" stroke-width="0.50"/>
<circle cx="530.1" cy="201.0" r="2.60" fill="#4C72B0" stroke="#fff" stroke-width="0.50"/>
<circle cx="527.0" cy="204.9" r="2.60" fill="#4C72B0" stroke="#fff" stroke-width="0.50"/>
<circle cx="528.5" cy="208.0" r="2.60" fill="#4C72B0" stroke="#fff" stroke-width="0.50"/>
<circle cx="564.1" cy="159.3" r="2.60" fill="#4C72B0" stroke="#fff" stroke-width="0.50"/>
<circle cx="568.7" cy="157.0" r="2.60" fill="#4C72B0" stroke="#fff" stroke-width="0.50"/>
<circle cx="573.4" cy="151.5" r="2.60" fill="#4C72B0" stroke="#fff" stroke-width="0.50"/>
<circle cx="537.0" cy="164.0" r="2.60" fill="#4C72B0" stroke="#fff" stroke-width="0.50"/>
<circle cx="531.6" cy="171.7" r="2.60" fill="#4C72B0" stroke="#fff" stroke-width="0.50"/>
<circle cx="529.3" cy="175.6" r="2.60" fill="#4C72B0" stroke="#fff" stroke-width="0.50"/>
<circle cx="547.0" cy="157.0" r="2.60" fill="#4C72B0" stroke="#fff" stroke-width="0.50"/>
<circle cx="553.2" cy="148.5" r="2.60" fill="#4C72B0" stroke="#fff" stroke-width="0.50"/>
<circle cx="557.9" cy="149.3" r="2.60" fill="#4C72B0" stroke="#fff" stroke-width="0.50"/>
<circle cx="563.3" cy="142.4" r="2.60" fill="#4C72B0" stroke="#fff" stroke-width="0.50"/>
<circle cx="567.9" cy="140.8" r="2.60" fill="#4C72B0" stroke="#fff" stroke-width="0.50"/>
<circle cx="572.6" cy="134.6" r="2.60" fill="#4C72B0" stroke="#fff" stroke-width="0.50"/>
<circle cx="578.7" cy="131.5" r="2.60" fill="#4C72B0" stroke="#fff" stroke-width="0.50"/>
<circle cx="587.2" cy="141.6" r="2.60" fill="#4C72B0" stroke="#fff" stroke-width="0.50"/>
<circle cx="579.5" cy="151.6" r="2.60" fill="#4C72B0" stroke="#fff" stroke-width="0.50"/>
<circle cx="576.4" cy="147.0" r="2.60" fill="#4C72B0" stroke="#fff" stroke-width="0.50"/>
<circle cx="564.8" cy="161.7" r="2.60" fill="#4C72B0" stroke="#fff" stroke-width="0.50"/>
<circle cx="559.4" cy="167.9" r="2.60" fill="#4C72B0" stroke="#fff" stroke-width="0.50"/>
<circle cx="553.2" cy="179.5" r="2.60" fill="#4C72B0" stroke="#fff" stroke-width="0.50"/>
<circle cx="549.4" cy="181.8" r="2.60" fill="#4C72B0" stroke="#fff" stroke-width="0.50"/>
<circle cx="544.0" cy="188.7" r="2.60" fill="#4C72B0" stroke="#fff" stroke-width="0.50"/>
<circle cx="521.2" cy="184.9" r="2.60" fill="#4C72B0" stroke="#fff" stroke-width="0.50"/>
<circle cx="555.5" cy="157.8" r="2.60" fill="#4C72B0" stroke="#fff" stroke-width="0.50"/>
<circle cx="550.1" cy="171.0" r="2.60" fill="#4C72B0" stroke="#fff" stroke-width="0.50"/>
<circle cx="549.4" cy="176.4" r="2.60" fill="#4C72B0" stroke="#fff" stroke-width="0.50"/>
<circle cx="546.3" cy="180.2" r="2.60" fill="#4C72B0" stroke="#fff" stroke-width="0.50"/>
<circle cx="604.8" cy="123.1" r="2.60" fill="#4C72B0" stroke="#fff" stroke-width="0.50"/>
<circle cx="599.4" cy="123.9" r="2.60" fill="#4C72B0" stroke="#fff" stroke-width="0.50"/>
<circle cx="594.0" cy="121.6" r="2.60" fill="#4C72B0" stroke="#fff" stroke-width="0.50"/>
<circle cx="587.8" cy="122.4" r="2.60" fill="#4C72B0" stroke="#fff" stroke-width="0.50"/>
<circle cx="585.5" cy="119.3" r="2.60" fill="#4C72B0" stroke="#fff" stroke-width="0.50"/>
<circle cx="591.7" cy="117.0" r="2.60" fill="#4C72B0" stroke="#fff" stroke-width="0.50"/>
<circle cx="594.8" cy="113.1" r="2.60" fill="#4C72B0" stroke="#fff" stroke-width="0.50"/>
<circle cx="600.2" cy="111.5" r="2.60" fill="#4C72B0" stroke="#fff" stroke-width="0.50"/>
<circle cx="606.4" cy="111.5" r="2.60" fill="#4C72B0" stroke="#fff" stroke-width="0.50"/>
<circle cx="598.6" cy="117.0" r="2.60" fill="#4C72B0" stroke="#fff" stroke-width="0.50"/>
<circle cx="606.4" cy="117.0" r="2.60" fill="#4C72B0" stroke="#fff" stroke-width="0.50"/>
<circle cx="580.1" cy="125.5" r="2.60" fill="#4C72B0" stroke="#fff" stroke-width="0.50"/>
<circle cx="574.7" cy="130.1" r="2.60" fill="#4C72B0" stroke="#fff" stroke-width="0.50"/>
<circle cx="581.6" cy="129.3" r="2.60" fill="#4C72B0" stroke="#fff" stroke-width="0.50"/>
<circle cx="569.3" cy="136.3" r="2.60" fill="#4C72B0" stroke="#fff" stroke-width="0.50"/>
<circle cx="569.3" cy="142.5" r="2.60" fill="#4C72B0" stroke="#fff" stroke-width="0.50"/>
<circle cx="564.6" cy="140.1" r="2.60" fill="#4C72B0" stroke="#fff" stroke-width="0.50"/>
<circle cx="563.1" cy="144.8" r="2.60" fill="#4C72B0" stroke="#fff" stroke-width="0.50"/>
<circle cx="577.0" cy="137.0" r="2.60" fill="#4C72B0" stroke="#fff" stroke-width="0.50"/>
<circle cx="580.1" cy="147.1" r="2.60" fill="#4C72B0" stroke="#fff" stroke-width="0.50"/>
<circle cx="587.0" cy="141.7" r="2.60" fill="#4C72B0" stroke="#fff" stroke-width="0.50"/>
<circle cx="579.3" cy="151.7" r="2.60" fill="#4C72B0" stroke="#fff" stroke-width="0.50"/>
<circle cx="560.0" cy="149.4" r="2.60" fill="#4C72B0" stroke="#fff" stroke-width="0.50"/>
<circle cx="566.2" cy="159.5" r="2.60" fill="#4C72B0" stroke="#fff" stroke-width="0.50"/>
<circle cx="563.9" cy="163.3" r="2.60" fill="#4C72B0" stroke="#fff" stroke-width="0.50"/>
<circle cx="561.5" cy="168.0" r="2.60" fill="#4C72B0" stroke="#fff" stroke-width="0.50"/>
<circle cx="621.8" cy="93.9" r="2.60" fill="#4C72B0" stroke="#fff" stroke-width="0.50"/>
<circle cx="619.5" cy="92.4" r="2.60" fill="#4C72B0" stroke="#fff" stroke-width="0.50"/>
<circle cx="617.1" cy="95.5" r="2.60" fill="#4C72B0" stroke="#fff" stroke-width="0.50"/>
<circle cx="622.5" cy="99.8" r="2.60" fill="#4C72B0" stroke="#fff" stroke-width="0.50"/>
<circle cx="616.4" cy="100.1" r="2.60" fill="#4C72B0" stroke="#fff" stroke-width="0.50"/>
<circle cx="611.7" cy="98.5" r="2.60" fill="#4C72B0" stroke="#fff" stroke-width="0.50"/>
<circle cx="612.5" cy="103.2" r="2.60" fill="#4C72B0" stroke="#fff" stroke-width="0.50"/>
<circle cx="608.6" cy="104.0" r="2.60" fill="#4C72B0" stroke="#fff" stroke-width="0.50"/>
<circle cx="616.4" cy="106.3" r="2.60" fill="#4C72B0" stroke="#fff" stroke-width="0.50"/>
<circle cx="620.2" cy="107.0" r="2.60" fill="#4C72B0" stroke="#fff" stroke-width="0.50"/>
<circle cx="605.5" cy="109.4" r="2.60" fill="#4C72B0" stroke="#fff" stroke-width="0.50"/>
<circle cx="603.2" cy="107.8" r="2.60" fill="#4C72B0" stroke="#fff" stroke-width="0.50"/>
<circle cx="600.1" cy="109.4" r="2.60" fill="#4C72B0" stroke="#fff" stroke-width="0.50"/>
<circle cx="599.4" cy="112.5" r="2.60" fill="#4C72B0" stroke="#fff" stroke-width="0.50"/>
<circle cx="606.3" cy="112.5" r="2.60" fill="#4C72B0" stroke="#fff" stroke-width="0.50"/>
<circle cx="609.4" cy="113.2" r="2.60" fill="#4C72B0" stroke="#fff" stroke-width="0.50"/>
<circle cx="594.7" cy="112.5" r="2.60" fill="#4C72B0" stroke="#fff" stroke-width="0.50"/>
<circle cx="594.0" cy="115.5" r="2.60" fill="#4C72B0" stroke="#fff" stroke-width="0.50"/>
<circle cx="598.6" cy="117.1" r="2.60" fill="#4C72B0" stroke="#fff" stroke-width="0.50"/>
<circle cx="603.2" cy="117.1" r="2.60" fill="#4C72B0" stroke="#fff" stroke-width="0.50"/>
<circle cx="607.1" cy="117.1" r="2.60" fill="#4C72B0" stroke="#fff" stroke-width="0.50"/>
<circle cx="610.2" cy="117.1" r="2.60" fill="#4C72B0" stroke="#fff" stroke-width="0.50"/>
<circle cx="590.1" cy="118.6" r="2.60" fill="#4C72B0" stroke="#fff" stroke-width="0.50"/>
<circle cx="586.2" cy="120.5" r="2.60" fill="#4C72B0" stroke="#fff" stroke-width="0.50"/>
<circle cx="595.5" cy="120.5" r="2.60" fill="#4C72B0" stroke="#fff" stroke-width="0.50"/>
<circle cx="590.9" cy="122.5" r="2.60" fill="#4C72B0" stroke="#fff" stroke-width="0.50"/>
<circle cx="600.1" cy="124.0" r="2.60" fill="#4C72B0" stroke="#fff" stroke-width="0.50"/>
<circle cx="604.8" cy="123.6" r="2.60" fill="#4C72B0" stroke="#fff" stroke-width="0.50"/>
<circle cx="585.5" cy="125.6" r="2.60" fill="#4C72B0" stroke="#fff" stroke-width="0.50"/>
<circle cx="579.3" cy="126.4" r="2.60" fill="#4C72B0" stroke="#fff" stroke-width="0.50"/>
<circle cx="582.4" cy="129.5" r="2.60" fill="#4C72B0" stroke="#fff" stroke-width="0.50"/>
<circle cx="574.6" cy="129.5" r="2.60" fill="#4C72B0" stroke="#fff" stroke-width="0.50"/>
<circle cx="588.5" cy="131.8" r="2.60" fill="#4C72B0" stroke="#fff" stroke-width="0.50"/>
<circle cx="579.3" cy="135.6" r="2.60" fill="#4C72B0" stroke="#fff" stroke-width="0.50"/>
<circle cx="571.5" cy="135.6" r="2.60" fill="#4C72B0" stroke="#fff" stroke-width="0.50"/>
<circle cx="588.5" cy="126.4" r="2.60" fill="#4C72B0" stroke="#fff" stroke-width="0.50"/>
<circle cx="456.5" cy="218.7" r="2.60" fill="#DD8452" stroke="#fff" stroke-width="0.50"/>
<circle cx="455.5" cy="295.1" r="2.60" fill="#DD8452" stroke="#fff" stroke-width="0.50"/>
<circle cx="450.9" cy="292.0" r="2.60" fill="#DD8452" stroke="#fff" stroke-width="0.50"/>
<circle cx="457.8" cy="287.4" r="2.60" fill="#DD8452" stroke="#fff" stroke-width="0.50"/>
<circle cx="455.5" cy="285.9" r="2.60" fill="#DD8452" stroke="#fff" stroke-width="0.50"/>
<circle cx="450.9" cy="283.5" r="2.60" fill="#DD8452" stroke="#fff" stroke-width="0.50"/>
<circle cx="454.7" cy="275.8" r="2.60" fill="#DD8452" stroke="#fff" stroke-width="0.50"/>
<circle cx="460.1" cy="279.7" r="2.60" fill="#DD8452" stroke="#fff" stroke-width="0.50"/>
<circle cx="450.9" cy="272.7" r="2.60" fill="#DD8452" stroke="#fff" stroke-width="0.50"/>
<circle cx="459.4" cy="271.2" r="2.60" fill="#DD8452" stroke="#fff" stroke-width="0.50"/>
<circle cx="451.6" cy="267.3" r="2.60" fill="#DD8452" stroke="#fff" stroke-width="0.50"/>
<circle cx="457.8" cy="266.5" r="2.60" fill="#DD8452" stroke="#fff" stroke-width="0.50"/>
<circle cx="464.0" cy="267.3" r="2.60" fill="#DD8452" stroke="#fff" stroke-width="0.50"/>
<circle cx="467.9" cy="287.9" r="2.60" fill="#DD8452" stroke="#fff" stroke-width="0.50"/>
<circle cx="473.2" cy="227.8" r="2.60" fill="#DD8452" stroke="#fff" stroke-width="0.50"/>
<circle cx="477.9" cy="226.5" r="2.60" fill="#DD8452" stroke="#fff" stroke-width="0.50"/>
<circle cx="484.8" cy="228.1" r="2.60" fill="#DD8452" stroke="#fff" stroke-width="0.50"/>
<circle cx="491.0" cy="226.2" r="2.60" fill="#DD8452" stroke="#fff" stroke-width="0.50"/>
<circle cx="498.0" cy="226.5" r="2.60" fill="#DD8452" stroke="#fff" stroke-width="0.50"/>
<circle cx="504.9" cy="227.3" r="2.60" fill="#DD8452" stroke="#fff" stroke-width="0.50"/>
<circle cx="469.4" cy="232.0" r="2.60" fill="#DD8452" stroke="#fff" stroke-width="0.50"/>
<circle cx="474.8" cy="232.7" r="2.60" fill="#DD8452" stroke="#fff" stroke-width="0.50"/>
<circle cx="481.0" cy="232.0" r="2.60" fill="#DD8452" stroke="#fff" stroke-width="0.50"/>
<circle cx="487.1" cy="231.2" r="2.60" fill="#DD8452" stroke="#fff" stroke-width="0.50"/>
<circle cx="493.3" cy="231.2" r="2.60" fill="#DD8452" stroke="#fff" stroke-width="0.50"/>
<circle cx="500.3" cy="234.3" r="2.60" fill="#DD8452" stroke="#fff" stroke-width="0.50"/>
<circle cx="506.5" cy="230.4" r="2.60" fill="#DD8452" stroke="#fff" stroke-width="0.50"/>
<circle cx="467.8" cy="236.6" r="2.60" fill="#DD8452" stroke="#fff" stroke-width="0.50"/>
<circle cx="473.2" cy="238.1" r="2.60" fill="#DD8452" stroke="#fff" stroke-width="0.50"/>
<circle cx="478.6" cy="237.4" r="2.60" fill="#DD8452" stroke="#fff" stroke-width="0.50"/>
<circle cx="484.8" cy="238.1" r="2.60" fill="#DD8452" stroke="#fff" stroke-width="0.50"/>
<circle cx="490.2" cy="238.1" r="2.60" fill="#DD8452" stroke="#fff" stroke-width="0.50"/>
<circle cx="495.6" cy="236.6" r="2.60" fill="#DD8452" stroke="#fff" stroke-width="0.50"/>
<circle cx="500.3" cy="238.9" r="2.60" fill="#DD8452" stroke="#fff" stroke-width="0.50"/>
<circle cx="459.3" cy="239.7" r="2.60" fill="#DD8452" stroke="#fff" stroke-width="0.50"/>
<circle cx="463.2" cy="242.8" r="2.60" fill="#DD8452" stroke="#fff" stroke-width="0.50"/>
<circle cx="469.4" cy="241.2" r="2.60" fill="#DD8452" stroke="#fff" stroke-width="0.50"/>
<circle cx="474.8" cy="243.5" r="2.60" fill="#DD8452" stroke="#fff" stroke-width="0.50"/>
<circle cx="481.7" cy="242.8" r="2.60" fill="#DD8452" stroke="#fff" stroke-width="0.50"/>
<circle cx="487.1" cy="245.1" r="2.60" fill="#DD8452" stroke="#fff" stroke-width="0.50"/>
<circle cx="494.9" cy="245.1" r="2.60" fill="#DD8452" stroke="#fff" stroke-width="0.50"/>
<circle cx="450.8" cy="246.6" r="2.60" fill="#DD8452" stroke="#fff" stroke-width="0.50"/>
<circle cx="457.0" cy="246.6" r="2.60" fill="#DD8452" stroke="#fff" stroke-width="0.50"/>
<circle cx="463.2" cy="249.0" r="2.60" fill="#DD8452" stroke="#fff" stroke-width="0.50"/>
<circle cx="469.4" cy="248.2" r="2.60" fill="#DD8452" stroke="#fff" stroke-width="0.50"/>
<circle cx="475.5" cy="249.7" r="2.60" fill="#DD8452" stroke="#fff" stroke-width="0.50"/>
<circle cx="482.5" cy="251.3" r="2.60" fill="#DD8452" stroke="#fff" stroke-width="0.50"/>
<circle cx="442.3" cy="252.8" r="2.60" fill="#DD8452" stroke="#fff" stroke-width="0.50"/>
<circle cx="447.7" cy="250.5" r="2.60" fill="#DD8452" stroke="#fff" stroke-width="0.50"/>
<circle cx="453.9" cy="252.0" r="2.60" fill="#DD8452" stroke="#fff" stroke-width="0.50"/>
<circle cx="460.1" cy="253.6" r="2.60" fill="#DD8452" stroke="#fff" stroke-width="0.50"/>
<circle cx="466.3" cy="252.8" r="2.60" fill="#DD8452" stroke="#fff" stroke-width="0.50"/>
<circle cx="472.5" cy="252.8" r="2.60" fill="#DD8452" stroke="#fff" stroke-width="0.50"/>
<circle cx="452.4" cy="257.5" r="2.60" fill="#DD8452" stroke="#fff" stroke-width="0.50"/>
<circle cx="458.5" cy="258.2" r="2.60" fill="#DD8452" stroke="#fff" stroke-width="0.50"/>
<circle cx="464.7" cy="257.5" r="2.60" fill="#DD8452" stroke="#fff" stroke-width="0.50"/>
<circle cx="470.1" cy="257.5" r="2.60" fill="#DD8452" stroke="#fff" stroke-width="0.50"/>
<circle cx="475.5" cy="258.2" r="2.60" fill="#DD8452" stroke="#fff" stroke-width="0.50"/>
<circle cx="455.5" cy="262.9" r="2.60" fill="#DD8452" stroke="#fff" stroke-width="0.50"/>
<circle cx="461.6" cy="262.1" r="2.60" fill="#DD8452" stroke="#fff" stroke-width="0.50"/>
<circle cx="467.8" cy="262.9" r="2.60" fill="#DD8452" stroke="#fff" stroke-width="0.50"/>
<circle cx="473.2" cy="262.1" r="2.60" fill="#DD8452" stroke="#fff" stroke-width="0.50"/>
<circle cx="450.8" cy="266.0" r="2.60" fill="#DD8452" stroke="#fff" stroke-width="0.50"/>
<circle cx="457.0" cy="267.5" r="2.60" fill="#DD8452" stroke="#fff" stroke-width="0.50"/>
<circle cx="463.2" cy="266.7" r="2.60" fill="#DD8452" stroke="#fff" stroke-width="0.50"/>
<circle cx="468.6" cy="267.5" r="2.60" fill="#DD8452" stroke="#fff" stroke-width="0.50"/>
<circle cx="473.2" cy="268.3" r="2.60" fill="#DD8452" stroke="#fff" stroke-width="0.50"/>
<circle cx="454.7" cy="272.1" r="2.60" fill="#DD8452" stroke="#fff" stroke-width="0.50"/>
<circle cx="460.1" cy="270.6" r="2.60" fill="#DD8452" stroke="#fff" stroke-width="0.50"/>
<circle cx="466.3" cy="272.9" r="2.60" fill="#DD8452" stroke="#fff" stroke-width="0.50"/>
<circle cx="470.1" cy="274.5" r="2.60" fill="#DD8452" stroke="#fff" stroke-width="0.50"/>
<circle cx="450.8" cy="276.8" r="2.60" fill="#DD8452" stroke="#fff" stroke-width="0.50"/>
<circle cx="457.0" cy="276.0" r="2.60" fill="#DD8452" stroke="#fff" stroke-width="0.50"/>
<circle cx="464.7" cy="277.6" r="2.60" fill="#DD8452" stroke="#fff" stroke-width="0.50"/>
<circle cx="456.2" cy="280.6" r="2.60" fill="#DD8452" stroke="#fff" stroke-width="0.50"/>
<circle cx="461.6" cy="283.0" r="2.60" fill="#DD8452" stroke="#fff" stroke-width="0.50"/>
<circle cx="517.1" cy="187.0" r="2.60" fill="#DD8452" stroke="#fff" stroke-width="0.50"/>
<circle cx="531.0" cy="183.1" r="2.60" fill="#DD8452" stroke="#fff" stroke-width="0.50"/>
<circle cx="538.0" cy="184.6" r="2.60" fill="#DD8452" stroke="#fff" stroke-width="0.50"/>
<circle cx="526.4" cy="187.7" r="2.60" fill="#DD8452" stroke="#fff" stroke-width="0.50"/>
<circle cx="532.6" cy="188.5" r="2.60" fill="#DD8452" stroke="#fff" stroke-width="0.50"/>
<circle cx="539.5" cy="187.7" r="2.60" fill="#DD8452" stroke="#fff" stroke-width="0.50"/>
<circle cx="519.4" cy="191.6" r="2.60" fill="#DD8452" stroke="#fff" stroke-width="0.50"/>
<circle cx="524.8" cy="193.9" r="2.60" fill="#DD8452" stroke="#fff" stroke-width="0.50"/>
<circle cx="510.9" cy="195.5" r="2.60" fill="#DD8452" stroke="#fff" stroke-width="0.50"/>
<circle cx="518.6" cy="196.2" r="2.60" fill="#DD8452" stroke="#fff" stroke-width="0.50"/>
<circle cx="530.2" cy="193.9" r="2.60" fill="#DD8452" stroke="#fff" stroke-width="0.50"/>
<circle cx="507.8" cy="202.4" r="2.60" fill="#DD8452" stroke="#fff" stroke-width="0.50"/>
<circle cx="513.2" cy="200.1" r="2.60" fill="#DD8452" stroke="#fff" stroke-width="0.50"/>
<circle cx="521.0" cy="200.1" r="2.60" fill="#DD8452" stroke="#fff" stroke-width="0.50"/>
<circle cx="525.6" cy="199.3" r="2.60" fill="#DD8452" stroke="#fff" stroke-width="0.50"/>
<circle cx="502.4" cy="204.7" r="2.60" fill="#DD8452" stroke="#fff" stroke-width="0.50"/>
<circle cx="513.2" cy="204.7" r="2.60" fill="#DD8452" stroke="#fff" stroke-width="0.50"/>
<circle cx="519.4" cy="206.3" r="2.60" fill="#DD8452" stroke="#fff" stroke-width="0.50"/>
<circle cx="497.8" cy="207.8" r="2.60" fill="#DD8452" stroke="#fff" stroke-width="0.50"/>
<circle cx="503.2" cy="209.4" r="2.60" fill="#DD8452" stroke="#fff" stroke-width="0.50"/>
<circle cx="509.4" cy="209.4" r="2.60" fill="#DD8452" stroke="#fff" stroke-width="0.50"/>
<circle cx="515.5" cy="210.1" r="2.60" fill="#DD8452" stroke="#fff" stroke-width="0.50"/>
<circle cx="522.5" cy="211.7" r="2.60" fill="#DD8452" stroke="#fff" stroke-width="0.50"/>
<circle cx="499.3" cy="212.5" r="2.60" fill="#DD8452" stroke="#fff" stroke-width="0.50"/>
<circle cx="504.7" cy="213.2" r="2.60" fill="#DD8452" stroke="#fff" stroke-width="0.50"/>
<circle cx="510.1" cy="214.0" r="2.60" fill="#DD8452" stroke="#fff" stroke-width="0.50"/>
<circle cx="517.9" cy="215.5" r="2.60" fill="#DD8452" stroke="#fff" stroke-width="0.50"/>
<circle cx="489.3" cy="217.9" r="2.60" fill="#DD8452" stroke="#fff" stroke-width="0.50"/>
<circle cx="494.7" cy="217.1" r="2.60" fill="#DD8452" stroke="#fff" stroke-width="0.50"/>
<circle cx="500.9" cy="217.9" r="2.60" fill="#DD8452" stroke="#fff" stroke-width="0.50"/>
<circle cx="507.0" cy="217.1" r="2.60" fill="#DD8452" stroke="#fff" stroke-width="0.50"/>
<circle cx="512.5" cy="219.4" r="2.60" fill="#DD8452" stroke="#fff" stroke-width="0.50"/>
<circle cx="518.6" cy="216.3" r="2.60" fill="#DD8452" stroke="#fff" stroke-width="0.50"/>
<circle cx="484.6" cy="222.5" r="2.60" fill="#DD8452" stroke="#fff" stroke-width="0.50"/>
<circle cx="490.8" cy="222.5" r="2.60" fill="#DD8452" stroke="#fff" stroke-width="0.50"/>
<circle cx="497.0" cy="221.7" r="2.60" fill="#DD8452" stroke="#fff" stroke-width="0.50"/>
<circle cx="503.2" cy="221.7" r="2.60" fill="#DD8452" stroke="#fff" stroke-width="0.50"/>
<circle cx="509.4" cy="222.5" r="2.60" fill="#DD8452" stroke="#fff" stroke-width="0.50"/>
<circle cx="481.5" cy="226.4" r="2.60" fill="#DD8452" stroke="#fff" stroke-width="0.50"/>
<circle cx="487.7" cy="226.4" r="2.60" fill="#DD8452" stroke="#fff" stroke-width="0.50"/>
<circle cx="493.1" cy="227.1" r="2.60" fill="#DD8452" stroke="#fff" stroke-width="0.50"/>
<circle cx="499.3" cy="226.4" r="2.60" fill="#DD8452" stroke="#fff" stroke-width="0.50"/>
<circle cx="504.7" cy="227.9" r="2.60" fill="#DD8452" stroke="#fff" stroke-width="0.50"/>
<circle cx="484.6" cy="231.0" r="2.60" fill="#DD8452" stroke="#fff" stroke-width="0.50"/>
<circle cx="490.8" cy="231.0" r="2.60" fill="#DD8452" stroke="#fff" stroke-width="0.50"/>
<circle cx="497.0" cy="231.8" r="2.60" fill="#DD8452" stroke="#fff" stroke-width="0.50"/>
<circle cx="506.3" cy="230.2" r="2.60" fill="#DD8452" stroke="#fff" stroke-width="0.50"/>
<circle cx="482.3" cy="235.6" r="2.60" fill="#DD8452" stroke="#fff" stroke-width="0.50"/>
<circle cx="488.5" cy="235.6" r="2.60" fill="#DD8452" stroke="#fff" stroke-width="0.50"/>
<circle cx="494.7" cy="235.6" r="2.60" fill="#DD8452" stroke="#fff" stroke-width="0.50"/>
<circle cx="500.1" cy="236.4" r="2.60" fill="#DD8452" stroke="#fff" stroke-width="0.50"/>
<circle cx="560.2" cy="153.1" r="2.60" fill="#DD8452" stroke="#fff" stroke-width="0.50"/>
<circle cx="564.1" cy="150.8" r="2.60" fill="#DD8452" stroke="#fff" stroke-width="0.50"/>
<circle cx="570.3" cy="155.9" r="2.60" fill="#DD8452" stroke="#fff" stroke-width="0.50"/>
<circle cx="559.5" cy="157.0" r="2.60" fill="#DD8452" stroke="#fff" stroke-width="0.50"/>
<circle cx="551.0" cy="160.8" r="2.60" fill="#DD8452" stroke="#fff" stroke-width="0.50"/>
<circle cx="555.6" cy="163.1" r="2.60" fill="#DD8452" stroke="#fff" stroke-width="0.50"/>
<circle cx="547.1" cy="164.7" r="2.60" fill="#DD8452" stroke="#fff" stroke-width="0.50"/>
<circle cx="551.7" cy="165.5" r="2.60" fill="#DD8452" stroke="#fff" stroke-width="0.50"/>
<circle cx="557.1" cy="170.1" r="2.60" fill="#DD8452" stroke="#fff" stroke-width="0.50"/>
<circle cx="537.0" cy="170.1" r="2.60" fill="#DD8452" stroke="#fff" stroke-width="0.50"/>
<circle cx="541.7" cy="170.1" r="2.60" fill="#DD8452" stroke="#fff" stroke-width="0.50"/>
<circle cx="548.6" cy="168.5" r="2.60" fill="#DD8452" stroke="#fff" stroke-width="0.50"/>
<circle cx="537.8" cy="174.7" r="2.60" fill="#DD8452" stroke="#fff" stroke-width="0.50"/>
<circle cx="543.2" cy="173.2" r="2.60" fill="#DD8452" stroke="#fff" stroke-width="0.50"/>
<circle cx="551.7" cy="173.2" r="2.60" fill="#DD8452" stroke="#fff" stroke-width="0.50"/>
<circle cx="531.6" cy="178.6" r="2.60" fill="#DD8452" stroke="#fff" stroke-width="0.50"/>
<circle cx="538.6" cy="180.1" r="2.60" fill="#DD8452" stroke="#fff" stroke-width="0.50"/>
<circle cx="543.2" cy="178.6" r="2.60" fill="#DD8452" stroke="#fff" stroke-width="0.50"/>
<circle cx="544.8" cy="183.2" r="2.60" fill="#DD8452" stroke="#fff" stroke-width="0.50"/>
<circle cx="526.2" cy="183.2" r="2.60" fill="#DD8452" stroke="#fff" stroke-width="0.50"/>
<circle cx="540.1" cy="184.8" r="2.60" fill="#DD8452" stroke="#fff" stroke-width="0.50"/>
<circle cx="517.0" cy="187.1" r="2.60" fill="#DD8452" stroke="#fff" stroke-width="0.50"/>
<circle cx="524.7" cy="188.6" r="2.60" fill="#DD8452" stroke="#fff" stroke-width="0.50"/>
<circle cx="532.4" cy="187.1" r="2.60" fill="#DD8452" stroke="#fff" stroke-width="0.50"/>
<circle cx="537.0" cy="187.9" r="2.60" fill="#DD8452" stroke="#fff" stroke-width="0.50"/>
<circle cx="519.3" cy="191.7" r="2.60" fill="#DD8452" stroke="#fff" stroke-width="0.50"/>
<circle cx="525.5" cy="193.3" r="2.60" fill="#DD8452" stroke="#fff" stroke-width="0.50"/>
<circle cx="531.6" cy="191.7" r="2.60" fill="#DD8452" stroke="#fff" stroke-width="0.50"/>
<circle cx="511.5" cy="194.8" r="2.60" fill="#DD8452" stroke="#fff" stroke-width="0.50"/>
<circle cx="517.0" cy="197.1" r="2.60" fill="#DD8452" stroke="#fff" stroke-width="0.50"/>
<circle cx="522.4" cy="200.2" r="2.60" fill="#DD8452" stroke="#fff" stroke-width="0.50"/>
<circle cx="513.9" cy="200.2" r="2.60" fill="#DD8452" stroke="#fff" stroke-width="0.50"/>
<circle cx="512.3" cy="203.3" r="2.60" fill="#DD8452" stroke="#fff" stroke-width="0.50"/>
<circle cx="518.5" cy="204.9" r="2.60" fill="#DD8452" stroke="#fff" stroke-width="0.50"/>
<circle cx="522.4" cy="207.2" r="2.60" fill="#DD8452" stroke="#fff" stroke-width="0.50"/>
<circle cx="585.7" cy="133.1" r="2.60" fill="#DD8452" stroke="#fff" stroke-width="0.50"/>
<circle cx="574.9" cy="134.6" r="2.60" fill="#DD8452" stroke="#fff" stroke-width="0.50"/>
<circle cx="574.1" cy="140.0" r="2.60" fill="#DD8452" stroke="#fff" stroke-width="0.50"/>
<circle cx="582.6" cy="140.8" r="2.60" fill="#DD8452" stroke="#fff" stroke-width="0.50"/>
<circle cx="581.8" cy="143.9" r="2.60" fill="#DD8452" stroke="#fff" stroke-width="0.50"/>
<circle cx="568.7" cy="147.0" r="2.60" fill="#DD8452" stroke="#fff" stroke-width="0.50"/>
<circle cx="564.8" cy="149.3" r="2.60" fill="#DD8452" stroke="#fff" stroke-width="0.50"/>
<circle cx="561.0" cy="153.2" r="2.60" fill="#DD8452" stroke="#fff" stroke-width="0.50"/>
<circle cx="559.4" cy="157.0" r="2.60" fill="#DD8452" stroke="#fff" stroke-width="0.50"/>
<circle cx="562.5" cy="159.4" r="2.60" fill="#DD8452" stroke="#fff" stroke-width="0.50"/>
<circle cx="570.2" cy="155.5" r="2.60" fill="#DD8452" stroke="#fff" stroke-width="0.50"/>
<circle cx="550.9" cy="160.1" r="2.60" fill="#DD8452" stroke="#fff" stroke-width="0.50"/>
<circle cx="550.1" cy="163.2" r="2.60" fill="#DD8452" stroke="#fff" stroke-width="0.50"/>
<circle cx="555.5" cy="163.2" r="2.60" fill="#DD8452" stroke="#fff" stroke-width="0.50"/>
<circle cx="552.5" cy="166.3" r="2.60" fill="#DD8452" stroke="#fff" stroke-width="0.50"/>
<circle cx="547.8" cy="168.6" r="2.60" fill="#DD8452" stroke="#fff" stroke-width="0.50"/>
<circle cx="557.1" cy="169.9" r="2.60" fill="#DD8452" stroke="#fff" stroke-width="0.50"/>
<circle cx="541.6" cy="169.9" r="2.60" fill="#DD8452" stroke="#fff" stroke-width="0.50"/>
<circle cx="537.0" cy="170.2" r="2.60" fill="#DD8452" stroke="#fff" stroke-width="0.50"/>
<circle cx="537.8" cy="174.0" r="2.60" fill="#DD8452" stroke="#fff" stroke-width="0.50"/>
<circle cx="550.9" cy="172.5" r="2.60" fill="#DD8452" stroke="#fff" stroke-width="0.50"/>
<circle cx="543.2" cy="176.4" r="2.60" fill="#DD8452" stroke="#fff" stroke-width="0.50"/>
<circle cx="531.6" cy="178.7" r="2.60" fill="#DD8452" stroke="#fff" stroke-width="0.50"/>
<circle cx="539.3" cy="180.2" r="2.60" fill="#DD8452" stroke="#fff" stroke-width="0.50"/>
<circle cx="544.7" cy="183.3" r="2.60" fill="#DD8452" stroke="#fff" stroke-width="0.50"/>
<circle cx="526.2" cy="184.1" r="2.60" fill="#DD8452" stroke="#fff" stroke-width="0.50"/>
<circle cx="534.7" cy="184.1" r="2.60" fill="#DD8452" stroke="#fff" stroke-width="0.50"/>
<circle cx="540.1" cy="184.9" r="2.60" fill="#DD8452" stroke="#fff" stroke-width="0.50"/>
<circle cx="532.4" cy="188.0" r="2.60" fill="#DD8452" stroke="#fff" stroke-width="0.50"/>
<circle cx="560.0" cy="154.8" r="2.60" fill="#DD8452" stroke="#fff" stroke-width="0.50"/>
<circle cx="595.5" cy="126.7" r="2.60" fill="#DD8452" stroke="#fff" stroke-width="0.50"/>
<circle cx="591.7" cy="129.8" r="2.60" fill="#DD8452" stroke="#fff" stroke-width="0.50"/>
<circle cx="585.5" cy="133.2" r="2.60" fill="#DD8452" stroke="#fff" stroke-width="0.50"/>
<circle cx="573.9" cy="140.1" r="2.60" fill="#DD8452" stroke="#fff" stroke-width="0.50"/>
<circle cx="583.2" cy="140.9" r="2.60" fill="#DD8452" stroke="#fff" stroke-width="0.50"/>
<circle cx="581.6" cy="143.2" r="2.60" fill="#DD8452" stroke="#fff" stroke-width="0.50"/>
<circle cx="568.5" cy="147.1" r="2.60" fill="#DD8452" stroke="#fff" stroke-width="0.50"/>
<circle cx="563.9" cy="148.6" r="2.60" fill="#DD8452" stroke="#fff" stroke-width="0.50"/>
<circle cx="570.0" cy="155.6" r="2.60" fill="#DD8452" stroke="#fff" stroke-width="0.50"/>
<circle cx="561.5" cy="160.2" r="2.60" fill="#DD8452" stroke="#fff" stroke-width="0.50"/>
<circle cx="595.5" cy="126.7" r="2.60" fill="#DD8452" stroke="#fff" stroke-width="0.50"/>
<circle cx="591.6" cy="129.5" r="2.60" fill="#DD8452" stroke="#fff" stroke-width="0.50"/>
<circle cx="585.5" cy="132.9" r="2.60" fill="#DD8452" stroke="#fff" stroke-width="0.50"/>
<circle cx="575.4" cy="134.4" r="2.60" fill="#DD8452" stroke="#fff" stroke-width="0.50"/>
<circle cx="623.0" cy="89.3" r="2.60" fill="#DD8452" stroke="#fff" stroke-width="0.50"/>
<circle cx="411.6" cy="277.4" r="2.60" fill="#DD8452" stroke="#fff" stroke-width="0.50"/>
<circle cx="405.8" cy="281.7" r="2.60" fill="#DD8452" stroke="#fff" stroke-width="0.50"/>
<circle cx="407.3" cy="284.0" r="2.60" fill="#DD8452" stroke="#fff" stroke-width="0.50"/>
<circle cx="422.0" cy="267.0" r="2.60" fill="#DD8452" stroke="#fff" stroke-width="0.50"/>
<circle cx="419.7" cy="270.5" r="2.60" fill="#DD8452" stroke="#fff" stroke-width="0.50"/>
<circle cx="419.3" cy="274.3" r="2.60" fill="#DD8452" stroke="#fff" stroke-width="0.50"/>
<circle cx="418.5" cy="277.0" r="2.60" fill="#DD8452" stroke="#fff" stroke-width="0.50"/>
<circle cx="422.4" cy="280.1" r="2.60" fill="#DD8452" stroke="#fff" stroke-width="0.50"/>
<circle cx="424.7" cy="274.7" r="2.60" fill="#DD8452" stroke="#fff" stroke-width="0.50"/>
<circle cx="427.4" cy="269.7" r="2.60" fill="#DD8452" stroke="#fff" stroke-width="0.50"/>
<circle cx="429.4" cy="262.7" r="2.60" fill="#DD8452" stroke="#fff" stroke-width="0.50"/>
<circle cx="431.3" cy="267.0" r="2.60" fill="#DD8452" stroke="#fff" stroke-width="0.50"/>
<circle cx="434.0" cy="260.8" r="2.60" fill="#DD8452" stroke="#fff" stroke-width="0.50"/>
<circle cx="434.8" cy="263.5" r="2.60" fill="#DD8452" stroke="#fff" stroke-width="0.50"/>
<circle cx="435.9" cy="267.8" r="2.60" fill="#DD8452" stroke="#fff" stroke-width="0.50"/>
<circle cx="432.5" cy="271.6" r="2.60" fill="#DD8452" stroke="#fff" stroke-width="0.50"/>
<circle cx="428.6" cy="274.3" r="2.60" fill="#DD8452" stroke="#fff" stroke-width="0.50"/>
<circle cx="427.8" cy="278.2" r="2.60" fill="#DD8452" stroke="#fff" stroke-width="0.50"/>
<circle cx="431.3" cy="279.7" r="2.60" fill="#DD8452" stroke="#fff" stroke-width="0.50"/>
<circle cx="435.2" cy="276.6" r="2.60" fill="#DD8452" stroke="#fff" stroke-width="0.50"/>
<circle cx="438.6" cy="270.8" r="2.60" fill="#DD8452" stroke="#fff" stroke-width="0.50"/>
<circle cx="440.2" cy="262.7" r="2.60" fill="#DD8452" stroke="#fff" stroke-width="0.50"/>
<circle cx="442.1" cy="258.5" r="2.60" fill="#DD8452" stroke="#fff" stroke-width="0.50"/>
<circle cx="439.0" cy="255.4" r="2.60" fill="#DD8452" stroke="#fff" stroke-width="0.50"/>
<circle cx="445.6" cy="256.2" r="2.60" fill="#DD8452" stroke="#fff" stroke-width="0.50"/>
<circle cx="448.3" cy="259.6" r="2.60" fill="#DD8452" stroke="#fff" stroke-width="0.50"/>
<circle cx="444.8" cy="266.6" r="2.60" fill="#DD8452" stroke="#fff" stroke-width="0.50"/>
<circle cx="441.7" cy="273.5" r="2.60" fill="#DD8452" stroke="#fff" stroke-width="0.50"/>
<circle cx="447.1" cy="272.0" r="2.60" fill="#DD8452" stroke="#fff" stroke-width="0.50"/>
<circle cx="444.4" cy="279.0" r="2.60" fill="#DD8452" stroke="#fff" stroke-width="0.50"/>
<circle cx="436.3" cy="281.7" r="2.60" fill="#DD8452" stroke="#fff" stroke-width="0.50"/>
<circle cx="425.5" cy="282.4" r="2.60" fill="#DD8452" stroke="#fff" stroke-width="0.50"/>
<circle cx="448.7" cy="265.0" r="2.60" fill="#DD8452" stroke="#fff" stroke-width="0.50"/>
<circle cx="408.9" cy="299.3" r="2.60" fill="#DD8452" stroke="#fff" stroke-width="0.50"/>
<circle cx="409.7" cy="302.7" r="2.60" fill="#DD8452" stroke="#fff" stroke-width="0.50"/>
<circle cx="409.7" cy="305.8" r="2.60" fill="#DD8452" stroke="#fff" stroke-width="0.50"/>
<circle cx="410.8" cy="313.2" r="2.60" fill="#DD8452" stroke="#fff" stroke-width="0.50"/>
<circle cx="415.1" cy="320.9" r="2.60" fill="#DD8452" stroke="#fff" stroke-width="0.50"/>
<circle cx="414.3" cy="298.5" r="2.60" fill="#DD8452" stroke="#fff" stroke-width="0.50"/>
<circle cx="418.2" cy="295.8" r="2.60" fill="#DD8452" stroke="#fff" stroke-width="0.50"/>
<circle cx="420.1" cy="299.6" r="2.60" fill="#DD8452" stroke="#fff" stroke-width="0.50"/>
<circle cx="417.0" cy="304.7" r="2.60" fill="#DD8452" stroke="#fff" stroke-width="0.50"/>
<circle cx="416.6" cy="307.8" r="2.60" fill="#DD8452" stroke="#fff" stroke-width="0.50"/>
<circle cx="417.8" cy="310.8" r="2.60" fill="#DD8452" stroke="#fff" stroke-width="0.50"/>
<circle cx="422.4" cy="309.7" r="2.60" fill="#DD8452" stroke="#fff" stroke-width="0.50"/>
<circle cx="425.5" cy="309.7" r="2.60" fill="#DD8452" stroke="#fff" stroke-width="0.50"/>
<circle cx="420.9" cy="306.6" r="2.60" fill="#DD8452" stroke="#fff" stroke-width="0.50"/>
<circle cx="423.2" cy="302.3" r="2.60" fill="#DD8452" stroke="#fff" stroke-width="0.50"/>
<circle cx="425.5" cy="296.5" r="2.60" fill="#DD8452" stroke="#fff" stroke-width="0.50"/>
<circle cx="429.8" cy="299.6" r="2.60" fill="#DD8452" stroke="#fff" stroke-width="0.50"/>
<circle cx="430.1" cy="303.1" r="2.60" fill="#DD8452" stroke="#fff" stroke-width="0.50"/>
<circle cx="430.9" cy="308.1" r="2.60" fill="#DD8452" stroke="#fff" stroke-width="0.50"/>
<circle cx="433.6" cy="310.8" r="2.60" fill="#DD8452" stroke="#fff" stroke-width="0.50"/>
<circle cx="432.5" cy="314.7" r="2.60" fill="#DD8452" stroke="#fff" stroke-width="0.50"/>
<circle cx="432.8" cy="319.0" r="2.60" fill="#DD8452" stroke="#fff" stroke-width="0.50"/>
<circle cx="434.0" cy="305.8" r="2.60" fill="#DD8452" stroke="#fff" stroke-width="0.50"/>
<circle cx="436.7" cy="299.6" r="2.60" fill="#DD8452" stroke="#fff" stroke-width="0.50"/>
<circle cx="437.1" cy="305.0" r="2.60" fill="#DD8452" stroke="#fff" stroke-width="0.50"/>
<circle cx="440.6" cy="295.8" r="2.60" fill="#DD8452" stroke="#fff" stroke-width="0.50"/>
<circle cx="440.2" cy="298.9" r="2.60" fill="#DD8452" stroke="#fff" stroke-width="0.50"/>
<circle cx="446.4" cy="297.7" r="2.60" fill="#DD8452" stroke="#fff" stroke-width="0.50"/>
<circle cx="444.4" cy="305.4" r="2.60" fill="#DD8452" stroke="#fff" stroke-width="0.50"/>
<circle cx="434.0" cy="295.8" r="2.60" fill="#DD8452" stroke="#fff" stroke-width="0.50"/>
<circle cx="429.4" cy="295.4" r="2.60" fill="#DD8452" stroke="#fff" stroke-width="0.50"/>
<circle cx="407.0" cy="284.3" r="2.60" fill="#DD8452" stroke="#fff" stroke-width="0.50"/>
<circle cx="405.4" cy="281.2" r="2.60" fill="#DD8452" stroke="#fff" stroke-width="0.50"/>
<circle cx="412.8" cy="292.0" r="2.60" fill="#DD8452" stroke="#fff" stroke-width="0.50"/>
<circle cx="418.2" cy="295.1" r="2.60" fill="#DD8452" stroke="#fff" stroke-width="0.50"/>
<circle cx="408.9" cy="298.9" r="2.60" fill="#DD8452" stroke="#fff" stroke-width="0.50"/>
<circle cx="421.6" cy="291.6" r="2.60" fill="#DD8452" stroke="#fff" stroke-width="0.50"/>
<circle cx="425.1" cy="293.9" r="2.60" fill="#DD8452" stroke="#fff" stroke-width="0.50"/>
<circle cx="422.4" cy="280.8" r="2.60" fill="#DD8452" stroke="#fff" stroke-width="0.50"/>
<circle cx="425.5" cy="283.9" r="2.60" fill="#DD8452" stroke="#fff" stroke-width="0.50"/>
<circle cx="430.9" cy="280.8" r="2.60" fill="#DD8452" stroke="#fff" stroke-width="0.50"/>
<circle cx="430.9" cy="289.3" r="2.60" fill="#DD8452" stroke="#fff" stroke-width="0.50"/>
<circle cx="434.8" cy="287.7" r="2.60" fill="#DD8452" stroke="#fff" stroke-width="0.50"/>
<circle cx="435.9" cy="282.7" r="2.60" fill="#DD8452" stroke="#fff" stroke-width="0.50"/>
<circle cx="429.0" cy="293.9" r="2.60" fill="#DD8452" stroke="#fff" stroke-width="0.50"/>
<circle cx="435.5" cy="294.7" r="2.60" fill="#DD8452" stroke="#fff" stroke-width="0.50"/>
<circle cx="440.2" cy="294.7" r="2.60" fill="#DD8452" stroke="#fff" stroke-width="0.50"/>
<circle cx="438.6" cy="284.6" r="2.60" fill="#DD8452" stroke="#fff" stroke-width="0.50"/>
<circle cx="444.0" cy="280.8" r="2.60" fill="#DD8452" stroke="#fff" stroke-width="0.50"/>
<circle cx="445.6" cy="288.5" r="2.60" fill="#DD8452" stroke="#fff" stroke-width="0.50"/>
<circle cx="440.2" cy="289.3" r="2.60" fill="#DD8452" stroke="#fff" stroke-width="0.50"/>
<circle cx="447.9" cy="292.8" r="2.60" fill="#DD8452" stroke="#fff" stroke-width="0.50"/>
<circle cx="446.4" cy="297.8" r="2.60" fill="#DD8452" stroke="#fff" stroke-width="0.50"/>
<circle cx="449.5" cy="284.6" r="2.60" fill="#DD8452" stroke="#fff" stroke-width="0.50"/>
<polyline points="49.5,76.5 49.5,333.4 292.5,333.4" fill="none" stroke="#262626" stroke-width="1.3"/>
<polyline points="393.6,76.3 393.6,333.4 635.7,333.4" fill="none" stroke="#262626" stroke-width="1.3"/>
<rect x="55.8" y="83.1" width="146.4" height="60.6" rx="2.5" fill="#fff" fill-opacity="0.8" stroke="#d9d9d9" stroke-width="0.9"/>
<text x="73.70" y="99.20" font-size="14.10" text-anchor="start" textLength="110.0" lengthAdjust="spacingAndGlyphs" >Expected Output</text>
<circle cx="72.6" cy="114.4" r="3.0" fill="#4C72B0"/>
<circle cx="72.6" cy="133.3" r="3.0" fill="#DD8452"/>
<text x="95.00" y="117.90" font-size="14.10" text-anchor="start" textLength="94.5" lengthAdjust="spacingAndGlyphs" >Positive Sample</text>
<text x="95.00" y="136.10" font-size="14.10" text-anchor="start" textLength="102.0" lengthAdjust="spacingAndGlyphs" >Negative Sample</text>
<rect x="400.8" y="83.0" width="145.9" height="61.2" rx="2.5" fill="#fff" fill-opacity="0.8" stroke="#d9d9d9" stroke-width="0.9"/>
<text x="418.00" y="99.20" font-size="14.10" text-anchor="start" textLength="110.0" lengthAdjust="spacingAndGlyphs" >Expected Output</text>
<circle cx="417.4" cy="114.4" r="3.0" fill="#4C72B0"/>
<circle cx="417.4" cy="133.3" r="3.0" fill="#DD8452"/>
<text x="439.30" y="117.90" font-size="14.10" text-anchor="start" textLength="94.5" lengthAdjust="spacingAndGlyphs" >Positive Sample</text>
<text x="439.30" y="136.10" font-size="14.10" text-anchor="start" textLength="102.0" lengthAdjust="spacingAndGlyphs" >Negative Sample</text>
<text x="80.10" y="352.20" font-size="12.20" text-anchor="middle" textLength="17.2" lengthAdjust="spacingAndGlyphs" >0.0</text>
<text x="127.40" y="352.20" font-size="12.20" text-anchor="middle" textLength="17.2" lengthAdjust="spacingAndGlyphs" >0.2</text>
<text x="174.70" y="352.20" font-size="12.20" text-anchor="middle" textLength="17.2" lengthAdjust="spacingAndGlyphs" >0.4</text>
<text x="222.00" y="352.20" font-size="12.20" text-anchor="middle" textLength="17.2" lengthAdjust="spacingAndGlyphs" >0.6</text>
<text x="269.30" y="352.20" font-size="12.20" text-anchor="middle" textLength="17.2" lengthAdjust="spacingAndGlyphs" >0.8</text>
<text x="40.50" y="301.95" font-size="12.20" text-anchor="end" textLength="17.2" lengthAdjust="spacingAndGlyphs" >0.2</text>
<text x="40.50" y="248.82" font-size="12.20" text-anchor="end" textLength="17.2" lengthAdjust="spacingAndGlyphs" >0.4</text>
<text x="40.50" y="195.70" font-size="12.20" text-anchor="end" textLength="17.2" lengthAdjust="spacingAndGlyphs" >0.6</text>
<text x="40.50" y="142.57" font-size="12.20" text-anchor="end" textLength="17.2" lengthAdjust="spacingAndGlyphs" >0.8</text>
<text x="40.50" y="89.45" font-size="12.20" text-anchor="end" textLength="17.2" lengthAdjust="spacingAndGlyphs" >1.0</text>
<text x="394.40" y="352.20" font-size="12.20" text-anchor="middle" textLength="17.2" lengthAdjust="spacingAndGlyphs" >0.0</text>
<text x="441.80" y="352.20" font-size="12.20" text-anchor="middle" textLength="17.2" lengthAdjust="spacingAndGlyphs" >0.2</text>
<text x="489.20" y="352.20" font-size="12.20" text-anchor="middle" textLength="17.2" lengthAdjust="spacingAndGlyphs" >0.4</text>
<text x="536.60" y="352.20" font-size="12.20" text-anchor="middle" textLength="17.2" lengthAdjust="spacingAndGlyphs" >0.6</text>
<text x="584.00" y="352.20" font-size="12.20" text-anchor="middle" textLength="17.2" lengthAdjust="spacingAndGlyphs" >0.8</text>
<text x="631.40" y="352.20" font-size="12.20" text-anchor="middle" textLength="17.2" lengthAdjust="spacingAndGlyphs" >1.0</text>
<text x="384.80" y="335.80" font-size="12.20" text-anchor="end" textLength="17.2" lengthAdjust="spacingAndGlyphs" >0.0</text>
<text x="384.80" y="285.80" font-size="12.20" text-anchor="end" textLength="17.2" lengthAdjust="spacingAndGlyphs" >0.2</text>
<text x="384.80" y="235.80" font-size="12.20" text-anchor="end" textLength="17.2" lengthAdjust="spacingAndGlyphs" >0.4</text>
<text x="384.80" y="185.80" font-size="12.20" text-anchor="end" textLength="17.2" lengthAdjust="spacingAndGlyphs" >0.6</text>
<text x="384.80" y="135.80" font-size="12.20" text-anchor="end" textLength="17.2" lengthAdjust="spacingAndGlyphs" >0.8</text>
<text x="384.80" y="85.80" font-size="12.20" text-anchor="end" textLength="17.2" lengthAdjust="spacingAndGlyphs" >1.0</text>
<text x="98.10" y="19.70" font-size="18.30" text-anchor="start" textLength="153.1" lengthAdjust="spacingAndGlyphs" >Celegans Metabolic</text>
<text x="470.00" y="19.60" font-size="18.30" text-anchor="start" textLength="98.6" lengthAdjust="spacingAndGlyphs" >Wiki Science</text>
<text x="170.40" y="368.80" font-size="15.00" text-anchor="middle" textLength="18.6" lengthAdjust="spacingAndGlyphs" >DG</text>
<text x="514.50" y="368.80" font-size="15.00" text-anchor="middle" textLength="38.6" lengthAdjust="spacingAndGlyphs" >TSAW</text>
<text x="292.20" y="328.10" font-size="14.30" text-anchor="end" textLength="79.5" lengthAdjust="spacingAndGlyphs" >Pearson: 0.2</text>
<text x="636.30" y="328.10" font-size="14.30" text-anchor="end" textLength="79.3" lengthAdjust="spacingAndGlyphs" >Pearson: 1.0</text>
<text transform="translate(17.2,207.0) rotate(-90)" font-size="14.3" text-anchor="middle">ID</text>
<text transform="translate(361.0,205.2) rotate(-90)" font-size="14.0" text-anchor="middle" textLength="93" lengthAdjust="spacingAndGlyphs">N2V(2.0, 1.5)</text>
<text x="52.20" y="384.00" font-size="22.60" text-anchor="start" textLength="18.4" lengthAdjust="spacingAndGlyphs" stroke="#262626" stroke-width="0.5">a)</text>
<text x="401.70" y="384.00" font-size="22.60" text-anchor="start" textLength="18.4" lengthAdjust="spacingAndGlyphs" stroke="#262626" stroke-width="0.5">b)</text>
</svg></body></html>
